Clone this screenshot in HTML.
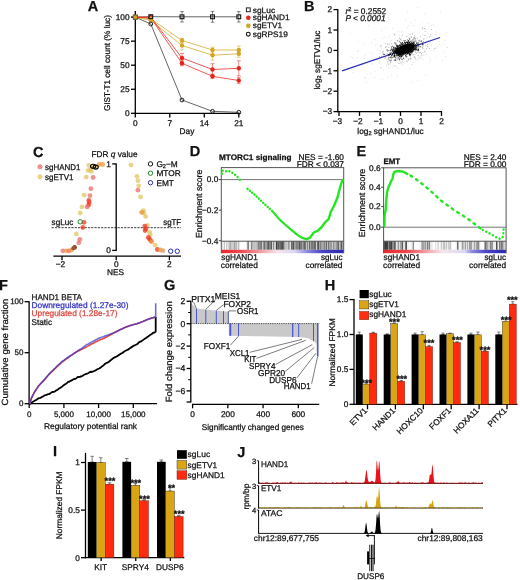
<!DOCTYPE html>
<html><head><meta charset="utf-8"><title>Figure</title>
<style>
html,body{margin:0;padding:0;background:#fff;}
body{width:520px;height:580px;overflow:hidden;}
svg{display:block;font-family:"Liberation Sans",sans-serif;fill:#111;}
text{stroke:#111;stroke-width:.25px;text-rendering:geometricPrecision;}
</style></head><body>
<svg width="520" height="580" viewBox="0 0 520 580">
<rect width="520" height="580" fill="#fff"/>
<g id="panelA">
<text x="87.80" y="10.80" font-size="14.5" font-weight="bold">A</text>
<line x1="135.30" y1="11.00" x2="135.30" y2="113.85" stroke="#000" stroke-width="1.3"/>
<line x1="134.75" y1="113.30" x2="240.50" y2="113.30" stroke="#000" stroke-width="1.3"/>
<line x1="131.00" y1="17.10" x2="135.30" y2="17.10" stroke="#000" stroke-width="1.3"/>
<text x="129.50" y="19.98" font-size="8.3" text-anchor="end">100</text>
<line x1="131.00" y1="41.15" x2="135.30" y2="41.15" stroke="#000" stroke-width="1.3"/>
<text x="129.50" y="44.03" font-size="8.3" text-anchor="end">75</text>
<line x1="131.00" y1="65.20" x2="135.30" y2="65.20" stroke="#000" stroke-width="1.3"/>
<text x="129.50" y="68.08" font-size="8.3" text-anchor="end">50</text>
<line x1="131.00" y1="89.25" x2="135.30" y2="89.25" stroke="#000" stroke-width="1.3"/>
<text x="129.50" y="92.13" font-size="8.3" text-anchor="end">25</text>
<line x1="131.00" y1="113.30" x2="135.30" y2="113.30" stroke="#000" stroke-width="1.3"/>
<text x="129.50" y="116.18" font-size="8.3" text-anchor="end">0</text>
<line x1="135.30" y1="113.30" x2="135.30" y2="117.60" stroke="#000" stroke-width="1.3"/>
<text x="135.30" y="126.08" font-size="8.3" text-anchor="middle">0</text>
<line x1="169.80" y1="113.30" x2="169.80" y2="117.60" stroke="#000" stroke-width="1.3"/>
<text x="169.80" y="126.08" font-size="8.3" text-anchor="middle">7</text>
<line x1="204.30" y1="113.30" x2="204.30" y2="117.60" stroke="#000" stroke-width="1.3"/>
<text x="204.30" y="126.08" font-size="8.3" text-anchor="middle">14</text>
<line x1="238.80" y1="113.30" x2="238.80" y2="117.60" stroke="#000" stroke-width="1.3"/>
<text x="238.80" y="126.08" font-size="8.3" text-anchor="middle">21</text>
<text x="187.00" y="134.08" font-size="8.3" text-anchor="middle">Day</text>
<text x="110.38" y="63.10" font-size="8.3" text-anchor="middle" transform="rotate(-90 110.38 63.10)" textLength="96.0" lengthAdjust="spacingAndGlyphs">GIST-T1 cell count (% luc)</text>
<polyline points="135.30,17.10 150.80,16.70 182.00,16.80 212.50,16.80 238.80,16.80" fill="none" stroke="#222" stroke-width="0.7"/>
<line x1="150.80" y1="15.20" x2="150.80" y2="18.20" stroke="#333" stroke-width="0.6"/>
<line x1="149.00" y1="15.20" x2="152.60" y2="15.20" stroke="#333" stroke-width="0.6"/>
<line x1="149.00" y1="18.20" x2="152.60" y2="18.20" stroke="#333" stroke-width="0.6"/>
<line x1="182.00" y1="11.60" x2="182.00" y2="22.00" stroke="#333" stroke-width="0.6"/>
<line x1="180.20" y1="11.60" x2="183.80" y2="11.60" stroke="#333" stroke-width="0.6"/>
<line x1="180.20" y1="22.00" x2="183.80" y2="22.00" stroke="#333" stroke-width="0.6"/>
<line x1="212.50" y1="11.40" x2="212.50" y2="22.20" stroke="#333" stroke-width="0.6"/>
<line x1="210.70" y1="11.40" x2="214.30" y2="11.40" stroke="#333" stroke-width="0.6"/>
<line x1="210.70" y1="22.20" x2="214.30" y2="22.20" stroke="#333" stroke-width="0.6"/>
<line x1="238.80" y1="11.60" x2="238.80" y2="22.00" stroke="#333" stroke-width="0.6"/>
<line x1="237.00" y1="11.60" x2="240.60" y2="11.60" stroke="#333" stroke-width="0.6"/>
<line x1="237.00" y1="22.00" x2="240.60" y2="22.00" stroke="#333" stroke-width="0.6"/>
<polyline points="135.30,17.10 150.80,24.00 182.00,100.00 212.50,111.30 238.80,112.30" fill="none" stroke="#222" stroke-width="0.7"/>
<polyline points="135.30,17.10 150.80,18.80 182.00,40.50 212.50,50.00 238.80,50.00" fill="none" stroke="#d3a521" stroke-width="0.75"/>
<line x1="182.00" y1="38.30" x2="182.00" y2="42.70" stroke="#d3a521" stroke-width="0.5"/>
<line x1="180.00" y1="38.30" x2="184.00" y2="38.30" stroke="#d3a521" stroke-width="0.5"/>
<line x1="180.00" y1="42.70" x2="184.00" y2="42.70" stroke="#d3a521" stroke-width="0.5"/>
<line x1="212.50" y1="47.20" x2="212.50" y2="52.80" stroke="#d3a521" stroke-width="0.5"/>
<line x1="210.50" y1="47.20" x2="214.50" y2="47.20" stroke="#d3a521" stroke-width="0.5"/>
<line x1="210.50" y1="52.80" x2="214.50" y2="52.80" stroke="#d3a521" stroke-width="0.5"/>
<line x1="238.80" y1="46.00" x2="238.80" y2="54.00" stroke="#d3a521" stroke-width="0.5"/>
<line x1="236.80" y1="46.00" x2="240.80" y2="46.00" stroke="#d3a521" stroke-width="0.5"/>
<line x1="236.80" y1="54.00" x2="240.80" y2="54.00" stroke="#d3a521" stroke-width="0.5"/>
<polyline points="135.30,17.10 150.80,20.40 182.00,45.50 212.50,55.20 238.80,53.80" fill="none" stroke="#d3a521" stroke-width="0.75"/>
<line x1="182.00" y1="41.00" x2="182.00" y2="50.00" stroke="#d3a521" stroke-width="0.5"/>
<line x1="180.00" y1="41.00" x2="184.00" y2="41.00" stroke="#d3a521" stroke-width="0.5"/>
<line x1="180.00" y1="50.00" x2="184.00" y2="50.00" stroke="#d3a521" stroke-width="0.5"/>
<line x1="212.50" y1="50.40" x2="212.50" y2="60.00" stroke="#d3a521" stroke-width="0.5"/>
<line x1="210.50" y1="50.40" x2="214.50" y2="50.40" stroke="#d3a521" stroke-width="0.5"/>
<line x1="210.50" y1="60.00" x2="214.50" y2="60.00" stroke="#d3a521" stroke-width="0.5"/>
<line x1="238.80" y1="50.30" x2="238.80" y2="57.30" stroke="#d3a521" stroke-width="0.5"/>
<line x1="236.80" y1="50.30" x2="240.80" y2="50.30" stroke="#d3a521" stroke-width="0.5"/>
<line x1="236.80" y1="57.30" x2="240.80" y2="57.30" stroke="#d3a521" stroke-width="0.5"/>
<polyline points="135.30,17.10 150.80,17.20 182.00,58.00 212.50,69.50 238.80,68.30" fill="none" stroke="#e8231c" stroke-width="0.75"/>
<line x1="182.00" y1="53.50" x2="182.00" y2="62.50" stroke="#e8231c" stroke-width="0.5"/>
<line x1="180.00" y1="53.50" x2="184.00" y2="53.50" stroke="#e8231c" stroke-width="0.5"/>
<line x1="180.00" y1="62.50" x2="184.00" y2="62.50" stroke="#e8231c" stroke-width="0.5"/>
<line x1="212.50" y1="63.70" x2="212.50" y2="75.30" stroke="#e8231c" stroke-width="0.5"/>
<line x1="210.50" y1="63.70" x2="214.50" y2="63.70" stroke="#e8231c" stroke-width="0.5"/>
<line x1="210.50" y1="75.30" x2="214.50" y2="75.30" stroke="#e8231c" stroke-width="0.5"/>
<line x1="238.80" y1="60.80" x2="238.80" y2="75.80" stroke="#e8231c" stroke-width="0.5"/>
<line x1="236.80" y1="60.80" x2="240.80" y2="60.80" stroke="#e8231c" stroke-width="0.5"/>
<line x1="236.80" y1="75.80" x2="240.80" y2="75.80" stroke="#e8231c" stroke-width="0.5"/>
<polyline points="135.30,17.10 150.80,18.00 182.00,63.30 212.50,76.30 238.80,80.50" fill="none" stroke="#e8231c" stroke-width="0.75"/>
<line x1="182.00" y1="60.80" x2="182.00" y2="65.80" stroke="#e8231c" stroke-width="0.5"/>
<line x1="180.00" y1="60.80" x2="184.00" y2="60.80" stroke="#e8231c" stroke-width="0.5"/>
<line x1="180.00" y1="65.80" x2="184.00" y2="65.80" stroke="#e8231c" stroke-width="0.5"/>
<line x1="212.50" y1="74.10" x2="212.50" y2="78.50" stroke="#e8231c" stroke-width="0.5"/>
<line x1="210.50" y1="74.10" x2="214.50" y2="74.10" stroke="#e8231c" stroke-width="0.5"/>
<line x1="210.50" y1="78.50" x2="214.50" y2="78.50" stroke="#e8231c" stroke-width="0.5"/>
<line x1="238.80" y1="77.30" x2="238.80" y2="83.70" stroke="#e8231c" stroke-width="0.5"/>
<line x1="236.80" y1="77.30" x2="240.80" y2="77.30" stroke="#e8231c" stroke-width="0.5"/>
<line x1="236.80" y1="83.70" x2="240.80" y2="83.70" stroke="#e8231c" stroke-width="0.5"/>
<circle cx="150.80" cy="17.20" r="2.2" fill="#e8231c"/>
<circle cx="182.00" cy="58.00" r="2.2" fill="#e8231c"/>
<circle cx="212.50" cy="69.50" r="2.2" fill="#e8231c"/>
<circle cx="238.80" cy="68.30" r="2.2" fill="#e8231c"/>
<circle cx="150.80" cy="18.00" r="2.2" fill="#e8231c"/>
<circle cx="182.00" cy="63.30" r="2.2" fill="#e8231c"/>
<circle cx="212.50" cy="76.30" r="2.2" fill="#e8231c"/>
<circle cx="238.80" cy="80.50" r="2.2" fill="#e8231c"/>
<circle cx="150.80" cy="18.80" r="2.2" fill="#d3a521"/>
<circle cx="182.00" cy="40.50" r="2.2" fill="#d3a521"/>
<circle cx="212.50" cy="50.00" r="2.2" fill="#d3a521"/>
<circle cx="238.80" cy="50.00" r="2.2" fill="#d3a521"/>
<circle cx="150.80" cy="20.40" r="2.2" fill="#d3a521"/>
<circle cx="182.00" cy="45.50" r="2.2" fill="#d3a521"/>
<circle cx="212.50" cy="55.20" r="2.2" fill="#d3a521"/>
<circle cx="238.80" cy="53.80" r="2.2" fill="#d3a521"/>
<rect x="133.40" y="15.20" width="3.80" height="3.80" fill="none" stroke="#111" stroke-width="1.1"/>
<rect x="148.90" y="14.80" width="3.80" height="3.80" fill="none" stroke="#111" stroke-width="1.1"/>
<rect x="180.10" y="14.90" width="3.80" height="3.80" fill="none" stroke="#111" stroke-width="1.1"/>
<rect x="210.60" y="14.90" width="3.80" height="3.80" fill="none" stroke="#111" stroke-width="1.1"/>
<rect x="236.90" y="14.90" width="3.80" height="3.80" fill="none" stroke="#111" stroke-width="1.1"/>
<circle cx="135.30" cy="17.10" r="1.9" fill="none" stroke="#111" stroke-width="0.9"/>
<circle cx="150.80" cy="24.00" r="1.9" fill="none" stroke="#111" stroke-width="0.9"/>
<circle cx="182.00" cy="100.00" r="1.9" fill="none" stroke="#111" stroke-width="0.9"/>
<circle cx="212.50" cy="111.30" r="1.9" fill="none" stroke="#111" stroke-width="0.9"/>
<circle cx="238.80" cy="112.30" r="1.9" fill="none" stroke="#111" stroke-width="0.9"/>
<circle cx="135.30" cy="17.10" r="2.3" fill="#d3a521"/>
<rect x="133.40" y="15.20" width="3.80" height="3.80" fill="none" stroke="#7a6a30" stroke-width="0.7"/>
<rect x="246.40" y="7.90" width="3.80" height="3.80" fill="none" stroke="#222" stroke-width="1.0"/>
<circle cx="248.30" cy="17.80" r="2.3" fill="#e8231c"/>
<circle cx="248.30" cy="25.70" r="2.3" fill="#d3a521"/>
<circle cx="248.30" cy="34.20" r="1.9" fill="none" stroke="#111" stroke-width="1.1"/>
<text x="252.80" y="12.68" font-size="8.0" textLength="22.3" lengthAdjust="spacingAndGlyphs">sgLuc</text>
<text x="252.80" y="20.48" font-size="8.0" textLength="36.8" lengthAdjust="spacingAndGlyphs">sgHAND1</text>
<text x="252.80" y="28.48" font-size="8.0" textLength="29.3" lengthAdjust="spacingAndGlyphs">sgETV1</text>
<text x="252.80" y="36.88" font-size="8.0" textLength="35.0" lengthAdjust="spacingAndGlyphs">sgRPS19</text>
</g>
<g id="panelB">
<text x="304.00" y="10.70" font-size="14.5" font-weight="bold">B</text>
<line x1="337.80" y1="9.05" x2="337.80" y2="112.15" stroke="#000" stroke-width="1.3"/>
<line x1="337.80" y1="111.60" x2="442.05" y2="111.60" stroke="#000" stroke-width="1.3"/>
<line x1="333.50" y1="9.60" x2="337.80" y2="9.60" stroke="#000" stroke-width="1.3"/>
<text x="332.20" y="12.48" font-size="8.3" text-anchor="end">2</text>
<line x1="333.50" y1="30.00" x2="337.80" y2="30.00" stroke="#000" stroke-width="1.3"/>
<text x="332.20" y="32.88" font-size="8.3" text-anchor="end">1</text>
<line x1="333.50" y1="50.40" x2="337.80" y2="50.40" stroke="#000" stroke-width="1.3"/>
<text x="332.20" y="53.28" font-size="8.3" text-anchor="end">0</text>
<line x1="333.50" y1="70.80" x2="337.80" y2="70.80" stroke="#000" stroke-width="1.3"/>
<text x="332.20" y="73.68" font-size="8.3" text-anchor="end">−1</text>
<line x1="333.50" y1="91.20" x2="337.80" y2="91.20" stroke="#000" stroke-width="1.3"/>
<text x="332.20" y="94.08" font-size="8.3" text-anchor="end">−2</text>
<line x1="333.50" y1="111.60" x2="337.80" y2="111.60" stroke="#000" stroke-width="1.3"/>
<text x="332.20" y="114.48" font-size="8.3" text-anchor="end">−3</text>
<line x1="339.00" y1="111.60" x2="339.00" y2="115.90" stroke="#000" stroke-width="1.3"/>
<text x="337.50" y="124.08" font-size="8.3" text-anchor="middle">−3</text>
<line x1="359.50" y1="111.60" x2="359.50" y2="115.90" stroke="#000" stroke-width="1.3"/>
<text x="358.00" y="124.08" font-size="8.3" text-anchor="middle">−2</text>
<line x1="380.00" y1="111.60" x2="380.00" y2="115.90" stroke="#000" stroke-width="1.3"/>
<text x="378.50" y="124.08" font-size="8.3" text-anchor="middle">−1</text>
<line x1="400.50" y1="111.60" x2="400.50" y2="115.90" stroke="#000" stroke-width="1.3"/>
<text x="400.50" y="124.08" font-size="8.3" text-anchor="middle">0</text>
<line x1="421.00" y1="111.60" x2="421.00" y2="115.90" stroke="#000" stroke-width="1.3"/>
<text x="421.00" y="124.08" font-size="8.3" text-anchor="middle">1</text>
<line x1="441.50" y1="111.60" x2="441.50" y2="115.90" stroke="#000" stroke-width="1.3"/>
<text x="441.50" y="124.08" font-size="8.3" text-anchor="middle">2</text>
<text x="390.50" y="133.88" font-size="8.3" text-anchor="middle">log<tspan font-size="5.6" dy="1.6">2</tspan><tspan dy="-1.6"> sgHAND1/luc</tspan></text>
<text x="319.68" y="60.00" font-size="8.3" text-anchor="middle" transform="rotate(-90 319.68 60.00)">log<tspan font-size="5.6" dy="1.6">2</tspan><tspan dy="-1.6"> sgETV1/luc</tspan></text>
<text x="345.50" y="13.60" font-size="8.3"><tspan font-style="italic">r</tspan><tspan font-size="5.6" dy="-3">2</tspan><tspan dy="3"> = 0.2552</tspan></text>
<text x="345.50" y="21.40" font-size="8.3" font-style="italic">P &lt; 0.0001</text>
<path d="M401.1 57.5h0M398.1 47.2h0M382.7 54.2h0M431.6 45.3h0M429.1 43.8h0M414.3 48.3h0M370.7 73.2h0M418.2 51.2h0M358.7 41.6h0M382.4 50.7h0M411.3 46.2h0M413.5 37.1h0M413.3 51.5h0M397.2 75.6h0M422.4 59.3h0M387.3 45.2h0M396.4 50.7h0M420.0 47.1h0M390.3 41.1h0M398.2 68.4h0M387.4 58.8h0M407.7 27.5h0M411.4 64.8h0M357.7 61.6h0M398.6 40.1h0M415.6 44.4h0M375.2 71.2h0M423.9 55.3h0M438.7 41.9h0M401.6 32.3h0M415.8 36.7h0M388.8 37.4h0M380.4 50.6h0M424.8 13.9h0M372.7 64.0h0M439.7 44.5h0M350.6 33.8h0M409.4 37.3h0M383.6 70.3h0M430.2 42.2h0M412.1 52.5h0M443.3 43.8h0M418.7 51.7h0M374.8 77.6h0M428.5 47.9h0M357.2 57.5h0M415.6 20.2h0M404.9 63.2h0M382.1 79.6h0M416.4 42.9h0M414.8 54.5h0M412.4 62.2h0M387.8 49.5h0M428.2 41.1h0M388.9 67.9h0M435.7 31.8h0M372.8 58.8h0M399.9 46.8h0M431.8 25.2h0M427.5 23.4h0M389.6 63.3h0M433.9 50.5h0M413.0 48.1h0M410.6 55.0h0M401.8 54.0h0M417.5 44.6h0M424.3 49.9h0M393.3 48.1h0M408.4 60.6h0M398.7 56.7h0M380.3 61.3h0M414.6 48.9h0M397.7 60.7h0M408.7 40.5h0M391.6 52.5h0M399.2 50.3h0M340.9 65.4h0M422.2 26.7h0M407.3 61.4h0M430.5 60.5h0M364.6 58.7h0M399.6 59.6h0M417.4 7.5h0M422.8 22.6h0M413.5 25.4h0M413.8 62.4h0M402.1 52.8h0M423.2 44.4h0M409.4 68.7h0M427.0 37.1h0M424.1 38.5h0M410.7 56.7h0M412.4 55.2h0M363.5 43.2h0M414.2 32.4h0M374.9 39.6h0M436.5 48.0h0M433.7 25.8h0M399.6 35.2h0M428.9 62.4h0M391.4 75.5h0M426.1 39.0h0M366.3 82.4h0M399.8 42.6h0M415.4 51.0h0M433.9 24.5h0M436.8 58.2h0M436.6 35.2h0M392.3 67.7h0M407.7 49.8h0M435.6 34.4h0M351.0 63.1h0M366.3 74.3h0M409.1 39.1h0M408.0 59.5h0M412.2 64.8h0M407.8 62.4h0M445.4 56.8h0M393.3 65.4h0M357.5 51.2h0M365.0 78.2h0M376.7 59.1h0M400.1 50.4h0M392.3 56.9h0M445.2 35.2h0M421.0 57.1h0M394.6 35.4h0M396.8 66.8h0M364.8 55.3h0M430.8 50.7h0M408.3 59.0h0M403.2 33.4h0M366.5 54.1h0M422.9 34.8h0M380.8 47.1h0M369.5 60.2h0M379.6 63.2h0M352.7 72.4h0M381.6 30.7h0M419.8 39.9h0M350.4 56.6h0M409.2 41.2h0M425.5 52.0h0M421.1 47.8h0M437.6 46.4h0M405.6 20.0h0M430.6 57.9h0M395.8 45.9h0M440.7 11.9h0M425.9 75.0h0M386.7 65.2h0M446.7 32.4h0M421.2 55.7h0M383.8 55.5h0M414.8 56.9h0M403.0 47.1h0M380.1 53.1h0M425.2 43.2h0M381.6 45.8h0M407.6 12.3h0M420.8 50.0h0M444.5 40.7h0M405.4 56.1h0M365.2 77.6h0M408.8 38.0h0M442.5 60.6h0M370.0 52.5h0M412.0 49.1h0M391.3 40.5h0M371.7 42.5h0M447.4 47.5h0M386.1 59.5h0M352.5 57.6h0M405.6 56.1h0M387.6 53.6h0M416.6 50.1h0M419.9 46.6h0M400.8 61.5h0M402.1 38.7h0M390.5 54.3h0M402.8 52.0h0M405.4 51.4h0M396.0 34.9h0M418.8 58.7h0M413.6 43.4h0M410.4 33.8h0M362.0 65.3h0M386.8 65.8h0M368.5 25.9h0M388.1 77.0h0M389.9 35.6h0M389.7 61.8h0M416.6 47.3h0M441.2 45.8h0M406.8 56.7h0M446.2 47.6h0M422.9 27.6h0M404.5 59.3h0M402.6 64.7h0M422.1 55.5h0M411.0 82.1h0M431.7 36.5h0M418.1 80.2h0M400.7 62.7h0M426.8 41.3h0M379.1 61.0h0M417.7 60.1h0M422.4 43.1h0M426.3 48.9h0M409.5 48.2h0M402.1 59.6h0M378.0 50.1h0M398.3 31.3h0M385.9 28.2h0M391.7 61.7h0M417.1 43.9h0M393.1 33.8h0M425.4 29.5h0M392.4 28.5h0M426.3 54.3h0M361.5 64.0h0M411.1 22.5h0M358.7 51.0h0M384.2 37.2h0M406.4 52.0h0M422.0 52.6h0M443.7 51.2h0M372.8 53.7h0M375.9 44.6h0M402.8 49.9h0M408.7 25.8h0M376.6 59.0h0M398.7 47.0h0M399.8 40.4h0M422.0 47.8h0M399.7 41.7h0M388.7 17.3h0M382.6 57.6h0M371.5 63.9h0M401.9 31.2h0M397.6 47.4h0M417.7 52.9h0M400.0 39.1h0M401.1 49.6h0M422.5 46.8h0M382.3 38.5h0M392.9 43.2h0M379.0 56.8h0M394.0 54.5h0M414.6 39.9h0M430.0 41.7h0" stroke="#999" stroke-width="0.7" stroke-linecap="round" fill="none" opacity="0.5"/>
<path d="M412.7 33.7h0M396.9 53.3h0M415.1 57.8h0M410.3 54.0h0M414.5 50.7h0M409.9 46.5h0M408.3 42.1h0M415.7 39.8h0M410.9 58.2h0M402.2 50.2h0M417.2 44.8h0M396.3 53.6h0M412.1 50.3h0M399.2 60.5h0M422.7 42.8h0M406.8 46.1h0M418.7 40.4h0M411.1 44.3h0M398.3 55.3h0M419.0 44.0h0M398.6 55.7h0M404.6 50.9h0M423.0 48.6h0M402.8 62.0h0M406.0 52.9h0M397.5 51.5h0M388.7 64.4h0M417.3 38.2h0M385.6 47.4h0M416.5 42.5h0M403.4 48.0h0M401.4 44.6h0M402.4 42.3h0M404.3 50.9h0M409.3 46.3h0M395.1 53.5h0M402.0 58.5h0M412.7 45.7h0M398.3 47.7h0M393.9 51.2h0M408.7 50.5h0M414.3 56.9h0M397.0 52.0h0M431.7 29.5h0M399.2 52.0h0M407.0 50.5h0M402.6 51.9h0M406.5 52.6h0M382.6 52.4h0M402.8 44.4h0M394.4 56.2h0M398.6 54.7h0M413.2 47.7h0M409.9 46.7h0M389.3 54.5h0M408.6 44.9h0M404.8 53.1h0M396.2 55.6h0M423.8 39.3h0M405.9 47.9h0M421.8 44.7h0M413.1 42.5h0M404.4 49.2h0M387.8 62.9h0M411.4 37.5h0M412.4 45.7h0M410.1 49.2h0M388.0 54.0h0M419.8 40.7h0M391.2 46.8h0M392.0 55.5h0M423.6 44.6h0M411.0 58.8h0M397.8 48.1h0M411.2 49.7h0M391.6 47.6h0M408.2 49.2h0M390.1 53.3h0M399.5 53.5h0M403.2 49.3h0M402.6 55.5h0M419.0 42.1h0M412.5 42.3h0M406.6 52.4h0M420.3 41.5h0M404.1 50.4h0M388.4 55.1h0M397.9 53.6h0M389.0 44.3h0M405.5 50.3h0M400.2 55.5h0M400.6 47.4h0M407.1 40.0h0M397.2 51.7h0M413.5 45.1h0M406.8 44.9h0M410.7 55.9h0M401.2 63.0h0M397.7 51.8h0M408.2 53.3h0M387.7 44.1h0M412.5 50.6h0M415.8 59.1h0M407.2 49.6h0M415.3 47.3h0M420.5 36.9h0M394.7 34.5h0M412.8 44.3h0M418.2 55.7h0M404.1 48.0h0M397.8 47.2h0M398.9 54.7h0M405.1 49.4h0M404.3 54.2h0M409.7 46.6h0M411.5 45.9h0M394.6 60.5h0M408.0 42.9h0M416.9 46.6h0M390.4 62.9h0M409.7 52.1h0M406.5 47.7h0M389.5 59.8h0M404.4 47.7h0M408.5 48.2h0M411.3 44.8h0M400.6 39.3h0M401.2 54.0h0M418.4 42.3h0M406.0 57.1h0M402.3 53.9h0M422.8 42.8h0M416.7 41.1h0M406.7 48.0h0M407.8 54.1h0M429.3 36.8h0M399.2 53.8h0M394.0 55.6h0M410.3 45.7h0M407.7 39.8h0M410.2 39.0h0M396.1 49.3h0M401.7 54.8h0M404.8 47.0h0M413.2 54.5h0M405.3 50.9h0M418.5 45.6h0M394.9 65.9h0M425.1 31.3h0M404.9 51.3h0M416.2 48.6h0M399.9 45.3h0M407.5 53.7h0M391.1 48.6h0M401.1 40.2h0M401.0 48.2h0M408.3 44.1h0M394.4 50.8h0M402.9 46.3h0M406.0 52.7h0M420.3 52.6h0M395.4 50.3h0M381.0 67.8h0M396.7 51.9h0M408.0 40.8h0M409.6 47.3h0M385.3 57.7h0M414.4 35.8h0M413.7 47.0h0M410.5 49.4h0M418.3 43.1h0M413.4 43.9h0M411.1 42.5h0M406.4 57.8h0M409.2 46.7h0M390.9 49.9h0M408.3 52.9h0M410.1 50.0h0M406.4 55.7h0M399.4 48.1h0M414.3 46.0h0M400.6 47.6h0M402.9 53.1h0M406.4 42.1h0M409.5 48.4h0M395.1 56.7h0M401.0 48.7h0M415.4 52.3h0M397.9 53.9h0M399.0 63.5h0M401.3 56.7h0M399.0 55.5h0M424.3 28.6h0M400.7 53.2h0M402.5 46.4h0M428.0 41.2h0M388.3 59.6h0M387.9 61.3h0M398.6 52.1h0M418.4 44.8h0M386.7 46.6h0M418.6 48.1h0M397.2 56.4h0M411.1 50.3h0M379.6 56.6h0M415.6 49.1h0M410.0 34.2h0M407.3 50.9h0M430.6 34.8h0M401.1 50.7h0M413.4 43.7h0M415.7 41.0h0M406.6 45.7h0M405.1 45.3h0M389.2 60.6h0M406.9 45.4h0M408.5 53.1h0M393.8 52.5h0M411.3 49.6h0M397.4 40.6h0M418.6 45.9h0M404.3 47.8h0M406.7 46.2h0M392.3 49.7h0M397.1 48.6h0M393.1 56.7h0M391.5 57.4h0M394.2 54.8h0M419.8 44.8h0M396.8 52.3h0M403.3 40.5h0M398.3 52.3h0M399.7 51.4h0M413.8 49.9h0M415.4 48.4h0M401.5 50.2h0M401.1 48.8h0M399.7 41.8h0M401.0 50.4h0M394.0 52.9h0M409.9 46.4h0M422.7 28.8h0M399.3 41.4h0M419.7 57.9h0M377.7 59.5h0M409.7 45.8h0M406.8 36.5h0M414.4 47.6h0M403.9 46.3h0M410.7 44.4h0M406.2 45.9h0M380.2 57.8h0M408.1 52.0h0M395.1 52.5h0M411.5 47.5h0M421.4 53.7h0M391.5 43.7h0M416.5 53.1h0M416.0 49.4h0M396.7 48.3h0M412.7 41.5h0M383.3 51.6h0M434.8 48.5h0M395.9 48.4h0M405.8 44.8h0M418.6 43.7h0M395.1 59.6h0M398.7 52.5h0M403.9 47.8h0M406.9 44.7h0M380.9 46.0h0M389.6 50.6h0M404.4 49.5h0M410.8 47.6h0M394.8 49.0h0M381.4 56.7h0M410.7 49.8h0M403.0 48.9h0M414.8 45.6h0M413.6 49.1h0M409.1 54.5h0M397.8 49.7h0M394.5 48.6h0M424.4 51.4h0M405.8 51.8h0M418.7 48.4h0M415.5 38.6h0M398.4 53.8h0M420.3 44.1h0M394.7 50.9h0M396.0 47.7h0M419.8 40.4h0M408.5 59.3h0M418.0 46.2h0M398.7 53.5h0M423.2 45.8h0M418.4 44.7h0M409.8 46.2h0M411.4 53.7h0M389.0 54.5h0M406.2 45.6h0M402.6 54.1h0M427.3 44.4h0M405.5 40.6h0M425.6 42.1h0M402.3 44.1h0M402.1 44.3h0M406.2 51.1h0M405.4 50.4h0M397.8 59.2h0M394.5 43.2h0M401.3 46.3h0M393.1 51.5h0M405.7 42.5h0M405.5 56.4h0M411.7 45.8h0M405.8 48.1h0M405.3 52.8h0M399.5 38.2h0M402.9 45.1h0M410.6 43.8h0M409.9 58.9h0M391.4 48.0h0M385.3 43.4h0M384.9 58.2h0M394.5 42.9h0M389.6 57.9h0M395.6 50.5h0M410.5 54.3h0M427.4 46.5h0M406.5 49.5h0M426.5 48.9h0M402.0 52.6h0M407.8 48.3h0M396.9 44.9h0M396.2 44.0h0M418.8 47.0h0M393.9 60.5h0M411.0 36.7h0M425.9 45.8h0M424.8 35.4h0M411.1 49.1h0M407.1 49.2h0M413.5 38.1h0M388.8 47.5h0M397.5 48.5h0M409.0 49.0h0M403.8 45.9h0M401.4 55.4h0M413.0 46.7h0M403.7 57.8h0M399.3 54.6h0M416.6 43.5h0M411.6 40.7h0M415.9 46.2h0M388.6 58.5h0M397.1 58.7h0M397.0 51.1h0M407.1 46.5h0M406.5 45.6h0M411.9 46.6h0M402.2 35.4h0M417.2 44.8h0M385.5 56.6h0M411.5 52.4h0M395.5 60.7h0M406.9 61.1h0M404.2 53.0h0M398.7 45.4h0M418.0 49.2h0M422.7 47.2h0M395.6 43.6h0M396.4 48.6h0M396.8 55.1h0M407.7 46.7h0M406.2 47.8h0M408.2 51.9h0M413.8 42.2h0M390.7 61.8h0M407.7 54.0h0M386.3 54.0h0M402.5 42.3h0M400.2 54.6h0M419.0 52.5h0M392.9 46.0h0M411.8 51.6h0M404.5 42.3h0M414.4 49.9h0M409.8 44.8h0M409.2 51.7h0M395.4 42.7h0M409.0 50.2h0M406.3 53.3h0M398.1 51.1h0M402.3 53.1h0M421.4 41.8h0M429.4 48.4h0M414.1 48.9h0M423.5 41.5h0M401.6 44.6h0M412.0 53.7h0M411.1 49.1h0M402.7 50.8h0M391.0 59.7h0M398.3 45.6h0M395.1 48.2h0M415.6 50.8h0M391.5 58.8h0M413.2 43.0h0M387.3 51.5h0M398.3 53.3h0M397.3 41.1h0M404.5 41.1h0M412.4 40.0h0M395.7 47.9h0M400.9 57.4h0M414.8 48.7h0M405.4 40.7h0M398.0 48.6h0M394.9 55.4h0" stroke="#444" stroke-width="0.75" stroke-linecap="round" fill="none" opacity="0.65"/>
<line x1="342.00" y1="70.80" x2="440.00" y2="37.50" stroke="#2b2fb8" stroke-width="1.3"/>
<path d="M399.6 48.8h0M396.5 45.8h0M409.4 51.6h0M404.7 46.2h0M389.0 55.4h0M412.0 47.5h0M411.5 51.3h0M410.7 45.6h0M411.5 49.1h0M395.2 51.3h0M396.2 51.9h0M406.9 45.1h0M393.9 57.1h0M408.2 52.4h0M397.9 54.9h0M418.7 50.3h0M403.6 50.4h0M404.7 52.2h0M410.7 47.3h0M397.4 54.1h0M402.5 51.9h0M407.7 53.1h0M410.8 45.6h0M408.4 53.3h0M401.9 51.5h0M412.8 50.1h0M406.3 44.5h0M397.5 52.5h0M409.4 55.3h0M400.7 54.1h0M407.5 43.0h0M400.0 51.4h0M401.6 49.8h0M406.5 46.0h0M406.7 46.5h0M402.0 51.8h0M401.5 51.2h0M414.0 45.9h0M404.5 51.5h0M403.5 52.9h0M397.7 53.6h0M400.8 48.1h0M414.1 43.2h0M415.5 47.3h0M412.1 43.5h0M413.0 50.7h0M403.8 49.1h0M419.1 44.5h0M401.5 48.4h0M407.5 49.2h0M407.3 53.5h0M403.2 51.2h0M412.1 43.4h0M412.5 52.0h0M395.6 49.1h0M396.7 46.3h0M405.4 43.2h0M408.9 52.1h0M394.9 51.7h0M394.2 55.4h0M400.0 50.0h0M405.5 50.6h0M402.6 50.0h0M401.5 50.7h0M397.8 51.8h0M392.8 51.9h0M415.9 45.4h0M397.5 52.5h0M397.3 46.7h0M401.0 52.8h0M406.7 48.1h0M398.1 48.2h0M412.7 47.0h0M397.0 45.4h0M399.0 58.8h0M397.8 51.4h0M405.7 48.3h0M401.6 46.0h0M400.1 56.0h0M401.0 53.1h0M394.4 52.0h0M407.1 51.5h0M398.6 53.2h0M406.1 46.4h0M406.5 45.7h0M399.9 50.8h0M388.7 54.6h0M397.3 47.3h0M402.9 52.2h0M403.5 53.5h0M396.5 48.1h0M414.0 47.0h0M409.3 45.0h0M409.5 48.2h0M408.4 47.9h0M411.0 44.9h0M397.5 47.2h0M410.6 44.7h0M397.6 48.8h0M400.8 46.7h0M402.3 48.1h0M400.4 47.7h0M404.4 47.9h0M405.5 49.6h0M404.4 42.5h0M400.7 48.2h0M407.6 43.3h0M400.1 49.9h0M403.6 52.6h0M403.0 52.8h0M394.3 47.3h0M412.1 47.8h0M407.6 48.5h0M406.2 44.9h0M409.6 45.8h0M410.4 47.4h0M391.8 49.8h0M411.0 46.5h0M402.5 50.7h0M401.6 48.6h0M405.3 49.4h0M413.5 46.1h0M417.3 50.2h0M415.7 48.5h0M405.5 49.3h0M403.1 47.5h0M403.6 47.6h0M414.7 47.2h0M400.1 44.9h0M403.9 48.2h0M397.1 48.4h0M392.0 55.5h0M406.8 56.4h0M404.3 48.9h0M413.2 46.5h0M405.2 47.8h0M402.5 54.6h0M412.1 51.8h0M402.6 50.0h0M400.4 53.7h0M397.0 53.7h0M412.4 50.7h0M400.2 54.1h0M399.7 48.6h0M398.0 55.1h0M413.6 44.1h0M399.8 49.9h0M420.2 46.7h0M399.7 45.4h0M401.8 53.9h0M415.2 44.6h0M400.1 49.3h0M394.5 55.6h0M399.3 54.4h0M393.4 49.3h0M405.5 46.5h0M409.2 47.6h0M398.4 53.4h0M407.6 42.2h0M415.7 46.7h0M407.2 42.5h0M400.1 49.8h0M409.4 43.0h0M397.5 45.5h0M403.5 50.7h0M394.2 51.1h0M409.1 52.5h0M408.2 47.0h0M396.8 49.1h0M400.9 51.0h0M405.9 53.9h0M405.2 45.7h0M414.5 48.5h0M404.5 47.0h0M392.7 50.3h0M409.1 45.1h0M397.1 52.5h0M406.6 50.3h0M409.8 51.7h0M400.7 53.6h0M399.5 53.2h0M405.9 49.5h0M410.2 47.1h0M411.9 49.3h0M404.8 47.4h0M399.7 49.3h0M403.4 49.6h0M422.6 44.7h0M408.2 45.2h0M400.1 49.8h0M404.7 46.0h0M413.4 44.3h0M408.6 40.6h0M404.8 50.0h0M406.3 50.4h0M406.4 49.1h0M392.9 51.2h0M391.6 55.8h0M406.2 48.0h0M399.2 49.3h0M417.1 50.0h0M405.5 52.8h0M393.4 47.3h0M400.9 47.8h0M401.5 50.9h0M421.6 41.0h0M405.2 49.8h0M405.3 51.8h0M413.7 42.1h0M405.3 48.1h0M405.2 44.3h0M392.1 46.6h0M407.9 48.6h0M402.7 42.6h0M401.7 47.9h0M395.5 49.7h0M409.2 49.2h0M405.0 50.7h0M401.1 50.7h0M405.4 50.6h0M404.1 49.0h0M403.2 47.7h0M418.1 45.9h0M409.4 54.6h0M411.3 42.0h0M409.5 50.0h0M416.9 48.8h0M407.9 44.4h0M399.8 51.8h0M406.5 45.4h0M402.0 48.9h0M405.3 50.0h0M401.7 46.4h0M413.4 50.9h0M405.0 52.2h0M407.8 50.1h0M406.7 46.1h0M408.9 50.8h0M401.3 56.4h0M418.6 49.8h0M416.9 47.0h0M402.0 48.3h0M400.0 51.2h0M405.1 51.1h0M395.1 59.8h0M417.9 44.3h0M409.0 49.1h0M406.0 48.1h0M403.1 47.2h0M405.6 48.8h0M405.6 46.2h0M404.9 49.2h0M407.1 45.0h0M408.0 51.0h0M407.7 46.9h0M401.5 49.6h0M410.4 51.9h0M403.0 47.8h0M407.0 49.0h0M398.6 49.1h0M404.7 51.2h0M396.6 48.9h0M406.3 44.8h0M405.6 49.9h0M403.0 46.7h0M403.9 48.4h0M405.7 46.2h0M409.3 42.3h0M403.6 49.6h0M409.6 45.5h0M407.2 46.5h0M410.6 52.4h0M402.7 51.3h0M400.1 53.8h0M411.7 46.8h0M398.4 52.7h0M412.4 49.8h0M407.5 42.5h0M402.0 54.5h0M398.6 54.9h0M416.3 47.3h0M410.8 45.9h0M397.4 51.5h0M403.4 49.5h0M408.5 47.3h0M406.1 50.0h0M406.4 54.2h0M407.3 48.5h0M402.8 47.9h0M412.6 46.8h0M397.8 49.9h0M403.4 48.3h0M409.8 43.8h0M407.6 48.6h0M397.8 51.8h0M404.5 50.8h0M402.3 51.0h0M393.8 49.7h0M410.2 50.4h0M403.9 47.6h0M408.9 41.2h0M400.6 52.7h0M407.4 45.0h0M395.0 57.1h0M404.6 46.4h0M405.8 51.5h0M390.6 57.7h0M406.9 42.0h0M407.3 42.7h0M411.6 47.9h0M417.1 42.8h0M405.7 52.0h0M400.2 48.6h0M402.4 49.8h0M398.8 52.8h0M407.8 48.3h0M414.2 44.7h0M411.7 45.0h0M407.1 42.3h0M405.6 48.3h0M401.1 48.6h0M401.9 48.0h0M391.2 52.2h0M400.9 48.9h0M398.3 51.1h0M408.9 46.9h0M403.1 53.9h0M411.2 49.7h0M411.0 45.9h0M404.9 52.5h0M401.3 50.0h0M407.2 49.4h0M404.0 52.5h0M404.3 51.6h0M411.5 48.8h0M407.7 44.5h0M396.3 50.3h0M408.8 52.3h0M397.8 52.6h0M398.9 49.0h0M403.7 51.7h0M407.0 52.0h0M399.7 53.7h0M410.1 47.4h0M406.8 46.7h0M397.8 50.4h0M403.7 58.4h0M403.4 54.7h0M406.1 49.6h0M408.2 45.5h0M410.3 48.3h0M396.3 54.0h0M408.3 49.3h0M413.4 44.7h0M408.3 50.2h0M400.5 54.4h0M394.9 48.7h0M406.6 45.1h0M402.3 45.0h0M403.9 46.0h0M405.1 44.3h0M407.0 47.5h0M404.9 48.9h0M404.1 45.3h0M389.7 54.7h0M398.7 49.9h0M405.1 42.9h0M399.5 49.1h0M398.8 52.3h0M403.0 47.3h0M399.7 53.5h0M401.3 52.2h0M405.4 43.1h0M398.3 51.5h0M407.4 50.6h0M410.3 50.3h0M402.2 49.4h0M408.7 46.4h0M409.2 42.6h0M408.2 47.4h0M394.1 56.0h0M406.4 48.6h0M397.9 50.2h0M412.6 43.8h0M383.5 54.2h0M397.5 51.4h0M401.4 47.5h0M400.7 53.8h0M398.1 57.6h0M400.4 47.4h0M409.7 49.1h0M399.3 53.4h0M393.0 50.5h0M410.9 46.1h0M397.5 53.3h0M409.9 47.2h0M393.7 52.0h0M407.8 50.4h0M415.2 44.6h0M401.7 50.1h0M410.7 44.1h0M409.5 39.0h0M408.6 45.7h0M408.0 50.1h0M397.6 51.4h0M406.6 50.3h0M398.2 48.4h0M395.9 60.2h0M403.3 49.0h0M396.8 54.9h0M402.9 54.2h0M409.6 47.5h0M407.7 44.6h0M402.1 48.3h0M397.2 51.9h0M405.2 53.4h0M384.4 54.4h0M398.8 49.9h0M407.5 49.4h0M404.3 47.8h0M407.8 49.1h0M393.6 52.4h0M395.4 48.9h0M405.5 49.1h0M404.4 46.6h0M402.5 47.1h0M407.5 50.3h0M416.1 49.0h0M399.5 49.6h0M399.4 52.0h0M416.8 47.0h0M390.5 50.4h0M397.6 53.3h0M404.9 50.0h0M414.2 43.2h0M401.6 56.3h0M405.8 46.4h0M391.3 49.3h0M390.4 54.5h0M405.8 51.8h0M403.1 47.6h0M402.1 55.9h0M394.5 53.4h0M405.4 50.8h0M402.7 51.4h0M409.2 47.1h0M401.7 49.7h0M398.8 50.7h0M403.0 50.4h0M413.7 50.0h0M402.6 51.8h0M407.1 50.7h0M405.0 49.9h0M401.1 48.0h0M411.0 50.9h0M408.9 49.0h0M405.7 47.4h0M394.8 54.8h0M405.2 47.3h0M400.2 54.7h0M395.8 57.8h0M410.7 54.3h0M400.4 50.6h0M401.8 50.7h0M402.6 47.6h0M410.1 44.8h0M402.2 51.8h0M401.0 49.1h0M406.3 47.4h0M397.2 51.5h0M405.0 54.3h0M399.2 54.1h0M399.7 49.9h0M403.0 50.6h0M411.4 52.2h0M402.2 54.2h0M411.2 49.3h0M401.1 53.3h0M404.3 50.4h0M403.7 51.6h0M412.2 49.9h0M404.4 52.3h0M412.2 43.6h0M411.9 42.5h0M408.3 49.7h0M413.5 46.8h0M401.0 48.0h0M398.1 53.9h0M402.5 47.7h0M407.0 46.0h0M401.6 48.9h0M415.7 49.7h0M402.1 45.2h0M406.3 48.8h0M407.2 50.0h0M403.6 52.4h0M409.7 48.0h0M401.8 48.7h0M407.6 44.7h0M402.9 47.5h0M397.1 53.8h0M404.5 49.4h0M408.2 43.3h0M404.5 50.1h0M408.4 44.5h0M409.0 48.3h0M413.6 49.5h0M409.9 53.9h0M404.2 48.0h0M401.7 47.3h0M402.6 44.1h0M404.5 50.5h0M410.0 46.2h0M412.1 44.5h0M402.0 44.4h0M399.4 48.6h0M413.6 47.5h0M398.8 52.9h0M407.1 47.6h0M404.4 48.3h0M399.8 45.6h0M405.3 52.8h0M412.5 45.5h0M400.1 50.2h0M410.0 48.3h0M401.6 51.4h0M403.9 51.0h0M400.9 46.1h0M405.7 51.1h0M398.2 51.2h0M409.2 46.4h0M402.8 55.9h0M410.3 50.2h0M400.8 55.5h0M394.7 51.2h0M410.1 51.2h0M398.7 49.3h0M403.9 43.7h0M408.8 49.4h0M402.6 51.5h0M409.3 48.4h0M409.0 52.1h0M402.0 50.6h0M402.6 53.0h0M402.7 51.3h0M405.4 49.1h0M414.2 45.5h0M413.4 48.5h0M411.9 46.1h0M410.6 49.3h0M401.4 51.2h0M403.8 49.4h0M411.3 44.7h0M393.5 48.0h0M401.4 48.4h0M405.2 50.7h0M414.8 46.4h0M406.5 46.3h0M409.2 51.6h0M410.3 41.3h0M411.1 51.6h0M407.8 43.6h0M403.4 51.4h0M406.2 46.2h0M400.5 53.5h0M398.5 55.7h0M405.0 49.9h0M396.5 50.3h0M407.1 43.9h0M414.9 41.3h0M397.8 51.8h0M408.0 50.2h0M402.3 49.4h0M402.7 48.2h0M391.0 56.9h0M406.2 49.1h0M401.3 51.1h0M404.5 49.0h0M409.2 42.5h0M405.0 45.9h0M404.2 53.8h0M398.4 51.1h0M402.2 52.9h0M397.5 46.8h0M407.1 47.2h0M403.8 52.7h0M399.3 50.0h0M405.8 50.0h0M402.7 53.0h0M416.8 43.6h0M413.1 39.9h0M412.2 45.5h0M405.0 48.0h0M399.8 47.1h0M403.6 53.4h0M410.7 46.0h0M401.0 48.4h0M399.6 56.3h0M408.4 48.2h0M400.9 47.5h0M412.7 48.6h0M400.2 53.7h0M399.0 53.1h0M398.8 50.1h0M407.8 49.3h0M409.5 45.0h0M414.7 49.5h0M405.0 50.4h0M400.1 50.4h0M397.3 52.1h0M407.0 52.3h0M410.7 49.4h0M402.4 49.3h0M402.9 50.5h0M394.5 55.1h0M395.3 51.0h0M404.2 47.8h0M413.8 45.6h0M414.5 49.1h0M402.2 51.3h0M411.6 45.7h0M404.6 47.6h0M404.6 48.2h0M406.0 51.7h0M412.5 46.7h0M406.5 51.0h0M402.0 47.0h0M409.9 44.5h0M408.9 44.8h0M413.9 42.8h0M410.8 51.4h0M400.6 55.0h0M398.3 46.2h0M409.3 49.6h0M401.1 43.0h0M404.0 48.5h0M402.2 49.2h0M394.0 51.3h0M416.1 49.6h0M401.9 48.1h0M407.8 51.2h0M407.5 44.7h0M405.6 49.2h0M413.8 49.4h0M408.7 51.3h0M403.8 54.0h0M402.6 51.1h0M408.9 45.0h0M399.0 46.0h0M405.5 48.7h0M403.2 51.2h0M392.7 53.4h0M404.8 48.3h0M410.7 52.2h0M401.2 47.6h0M401.3 50.7h0M407.1 45.8h0M409.2 44.5h0M409.6 48.7h0M409.2 53.9h0M403.0 49.3h0M408.1 50.5h0M397.4 52.6h0M401.0 52.3h0M412.3 46.6h0M404.2 49.9h0M388.8 57.2h0M407.9 48.5h0M401.7 48.1h0M404.7 52.7h0M405.3 52.9h0M389.8 53.2h0M406.1 48.6h0M394.7 50.8h0M410.4 43.3h0M398.0 48.3h0M402.1 52.0h0M406.0 42.7h0M412.2 44.7h0M402.9 54.8h0M403.0 46.1h0M400.3 48.6h0M398.6 50.4h0M409.8 48.3h0M399.5 59.3h0M399.2 51.5h0M405.5 51.1h0M403.2 51.1h0M416.5 45.2h0M398.8 52.2h0M399.8 49.8h0M406.0 49.7h0M403.8 52.0h0M402.3 46.2h0M409.2 46.5h0M410.8 45.0h0M408.1 48.9h0M388.1 50.7h0M399.7 55.1h0M394.9 55.4h0M411.2 48.3h0M407.9 46.5h0M404.8 49.8h0M407.6 50.2h0M402.8 47.8h0M401.8 51.4h0M394.1 49.3h0M401.8 48.6h0M400.6 42.8h0M402.5 49.2h0M407.1 42.4h0M403.3 51.1h0M408.5 51.3h0M409.5 44.3h0M407.8 47.0h0M401.5 54.8h0M400.3 48.2h0M401.5 47.8h0M410.6 48.2h0M412.8 47.5h0M402.1 53.2h0M400.5 49.3h0M403.7 49.6h0M410.7 45.2h0M406.5 48.4h0M396.5 48.9h0M403.7 50.7h0M406.9 49.8h0M404.4 47.9h0M406.0 45.7h0M396.7 51.0h0M396.1 50.7h0M399.9 49.3h0M403.6 47.2h0M400.6 45.6h0M404.6 46.6h0M404.2 40.9h0M400.3 51.5h0M390.5 53.2h0M405.2 49.3h0M396.4 52.8h0M404.5 46.3h0M408.7 47.6h0M404.3 48.0h0M407.8 48.3h0M411.4 48.1h0M400.9 49.9h0M409.4 46.4h0M407.3 49.8h0M401.4 43.4h0M405.5 49.5h0M404.6 46.9h0M411.3 46.4h0M400.4 48.6h0M405.6 45.6h0M400.9 56.5h0M413.0 49.3h0M412.9 48.0h0M396.2 55.8h0M412.1 48.0h0M394.7 56.5h0M411.8 45.1h0M406.1 51.0h0M405.2 52.3h0M405.7 50.9h0M403.7 45.1h0M402.0 59.6h0M407.4 52.1h0M412.7 51.4h0M407.2 46.5h0M402.9 44.1h0M404.4 52.0h0M392.6 54.1h0M410.5 51.0h0M398.7 49.4h0M393.0 50.3h0M409.6 53.6h0M399.4 55.2h0M406.5 47.0h0M414.6 38.0h0M404.4 49.9h0M418.4 49.6h0M417.6 44.9h0M411.5 50.8h0M407.8 49.1h0M403.2 48.5h0M399.5 56.9h0M400.1 44.6h0M406.1 48.6h0M407.3 53.7h0M403.7 48.7h0M400.3 50.7h0M402.3 50.6h0M422.7 43.9h0M401.6 56.1h0M410.3 49.6h0M409.4 49.9h0M409.8 51.6h0M411.6 50.7h0M401.7 50.2h0M401.4 53.2h0M408.9 46.3h0M410.4 55.0h0M410.6 43.7h0M404.7 51.1h0M404.8 50.3h0M411.6 47.7h0M399.0 53.3h0M404.2 49.7h0M400.1 46.7h0M397.2 50.8h0M395.9 44.2h0M410.0 43.8h0M401.0 52.1h0M392.2 57.7h0M400.9 52.5h0M402.2 51.0h0M405.2 49.0h0M392.8 49.0h0M405.7 53.0h0M402.0 51.7h0M406.0 50.2h0M408.8 43.2h0M406.0 48.2h0M402.0 47.6h0M399.1 48.1h0M400.8 58.1h0M414.3 45.7h0M407.9 45.1h0M387.0 50.0h0M406.8 52.7h0M403.4 46.6h0M402.3 47.0h0M396.5 51.4h0M401.6 47.9h0M398.7 48.5h0M407.3 52.4h0M405.5 55.6h0M395.7 53.2h0M397.9 51.1h0M405.7 50.5h0M410.5 45.4h0M397.4 51.2h0M405.6 46.7h0M411.3 51.8h0M396.9 53.1h0M408.5 42.0h0M405.6 48.2h0M397.8 55.6h0M405.4 47.5h0M407.7 50.0h0M409.5 49.2h0M405.8 45.2h0M402.3 50.4h0M390.9 60.5h0M401.4 47.2h0M394.5 53.6h0M404.2 47.6h0M401.4 47.7h0M400.2 50.5h0M401.6 52.3h0M403.9 49.8h0M408.1 51.8h0M408.2 48.6h0M402.9 47.4h0M403.3 51.7h0M405.5 47.7h0M395.6 47.8h0M407.4 51.3h0M405.4 44.8h0M403.6 50.2h0M399.7 52.0h0M402.7 47.4h0M398.3 53.9h0M405.8 46.1h0M399.7 53.6h0M407.7 47.2h0M413.4 45.2h0M399.6 54.3h0M403.9 50.5h0M403.9 46.5h0M397.7 51.1h0M411.6 43.7h0M412.5 47.0h0M398.5 52.2h0M407.0 45.7h0M392.8 54.5h0M398.7 52.6h0M393.6 52.7h0M398.6 46.9h0M403.4 50.1h0M400.3 47.2h0M404.1 44.1h0M408.1 49.4h0M415.0 48.1h0M406.9 49.2h0M403.5 45.6h0M413.4 47.6h0M401.9 46.7h0M413.5 47.6h0" stroke="#000" stroke-width="0.9" stroke-linecap="round" fill="none" opacity="1"/>
<ellipse cx="404.6" cy="49.2" rx="10.3" ry="4.2" fill="#000" transform="rotate(-19.8 404.6 49.2)"/>
</g>
<g id="panelC">
<text x="33.00" y="156.60" font-size="14.5" font-weight="bold">C</text>
<circle cx="40.00" cy="166.80" r="2.5" fill="#ee6f6f" fill-opacity="0.78"/>
<circle cx="40.00" cy="176.80" r="2.5" fill="#e3c768" fill-opacity="0.78"/>
<text x="45.00" y="169.78" font-size="8.3" textLength="35.5" lengthAdjust="spacingAndGlyphs">sgHAND1</text>
<text x="45.00" y="179.78" font-size="8.3" textLength="28.5" lengthAdjust="spacingAndGlyphs">sgETV1</text>
<text x="114.50" y="157.18" font-size="8.3" text-anchor="middle" textLength="46.0" lengthAdjust="spacingAndGlyphs">FDR <tspan font-style="italic">q</tspan> value</text>
<line x1="51.60" y1="227.70" x2="181.00" y2="227.70" stroke="#222" stroke-width="0.9" stroke-dasharray="2.2 1.1"/>
<circle cx="88.80" cy="165.40" r="2.4" fill="#e3c768" fill-opacity="0.78"/>
<circle cx="90.50" cy="169.70" r="2.4" fill="#e3c768" fill-opacity="0.78"/>
<circle cx="88.00" cy="170.60" r="2.4" fill="#e3c768" fill-opacity="0.78"/>
<circle cx="91.40" cy="171.40" r="2.4" fill="#e3c768" fill-opacity="0.78"/>
<circle cx="93.10" cy="166.20" r="2.4" fill="#e3c768" fill-opacity="0.78"/>
<circle cx="95.70" cy="167.10" r="2.4" fill="#e3c768" fill-opacity="0.78"/>
<circle cx="99.20" cy="164.50" r="2.4" fill="#f09a3c" fill-opacity="0.78"/>
<circle cx="102.70" cy="164.50" r="2.4" fill="#f09a3c" fill-opacity="0.78"/>
<circle cx="86.20" cy="177.10" r="2.4" fill="#e3c768" fill-opacity="0.78"/>
<circle cx="93.10" cy="177.50" r="2.4" fill="#ee6f6f" fill-opacity="0.78"/>
<circle cx="90.90" cy="188.70" r="2.4" fill="#ee6f6f" fill-opacity="0.78"/>
<circle cx="84.20" cy="195.10" r="2.4" fill="#e3c768" fill-opacity="0.78"/>
<circle cx="90.00" cy="195.70" r="2.4" fill="#ee6f6f" fill-opacity="0.78"/>
<circle cx="88.80" cy="200.30" r="2.4" fill="#ef3a25" fill-opacity="0.78"/>
<circle cx="89.20" cy="202.60" r="2.4" fill="#ef3a25" fill-opacity="0.78"/>
<circle cx="88.50" cy="205.20" r="2.4" fill="#ef3a25" fill-opacity="0.78"/>
<circle cx="87.10" cy="206.90" r="2.4" fill="#ee6f6f" fill-opacity="0.78"/>
<circle cx="81.90" cy="206.90" r="2.4" fill="#e3c768" fill-opacity="0.78"/>
<circle cx="80.20" cy="213.00" r="2.4" fill="#e3c768" fill-opacity="0.78"/>
<circle cx="84.00" cy="222.30" r="2.4" fill="#ef3a25" fill-opacity="0.78"/>
<circle cx="82.80" cy="227.50" r="2.4" fill="#ef3a25" fill-opacity="0.78"/>
<circle cx="76.40" cy="234.00" r="2.4" fill="#e3c768" fill-opacity="0.78"/>
<circle cx="79.80" cy="239.30" r="2.4" fill="#ee6f6f" fill-opacity="0.78"/>
<circle cx="78.80" cy="242.70" r="2.4" fill="#ee6f6f" fill-opacity="0.78"/>
<circle cx="62.90" cy="250.80" r="2.4" fill="#ee6f6f" fill-opacity="0.78"/>
<circle cx="66.30" cy="250.80" r="2.4" fill="#f09a3c" fill-opacity="0.78"/>
<circle cx="68.90" cy="250.80" r="2.4" fill="#ee6f6f" fill-opacity="0.78"/>
<circle cx="71.50" cy="250.20" r="2.4" fill="#f09a3c" fill-opacity="0.78"/>
<circle cx="74.60" cy="247.40" r="2.3" fill="#8a4a2a"/>
<circle cx="73.20" cy="248.20" r="2.0" fill="#9c5a30"/>
<circle cx="131.00" cy="165.10" r="2.4" fill="#e3c768" fill-opacity="0.78"/>
<circle cx="137.00" cy="176.30" r="2.4" fill="#e3c768" fill-opacity="0.78"/>
<circle cx="137.90" cy="180.70" r="2.4" fill="#e3c768" fill-opacity="0.78"/>
<circle cx="138.70" cy="185.80" r="2.4" fill="#e3c768" fill-opacity="0.78"/>
<circle cx="137.90" cy="190.20" r="2.4" fill="#ee6f6f" fill-opacity="0.78"/>
<circle cx="140.50" cy="196.90" r="2.4" fill="#e3c768" fill-opacity="0.78"/>
<circle cx="143.40" cy="210.60" r="2.4" fill="#e3c768" fill-opacity="0.78"/>
<circle cx="142.20" cy="212.30" r="2.4" fill="#e3c768" fill-opacity="0.78"/>
<circle cx="143.90" cy="213.20" r="2.4" fill="#e3c768" fill-opacity="0.78"/>
<circle cx="141.70" cy="212.30" r="2.4" fill="#f09a3c" fill-opacity="0.78"/>
<circle cx="145.70" cy="216.60" r="2.4" fill="#e3c768" fill-opacity="0.78"/>
<circle cx="147.40" cy="225.30" r="2.4" fill="#e3c768" fill-opacity="0.78"/>
<circle cx="144.80" cy="226.10" r="2.4" fill="#ef3a25" fill-opacity="0.78"/>
<circle cx="145.70" cy="228.70" r="2.4" fill="#ef3a25" fill-opacity="0.78"/>
<circle cx="145.10" cy="230.50" r="2.4" fill="#ef3a25" fill-opacity="0.78"/>
<circle cx="149.60" cy="232.20" r="2.4" fill="#e3c768" fill-opacity="0.78"/>
<circle cx="150.30" cy="234.80" r="2.4" fill="#e3c768" fill-opacity="0.78"/>
<circle cx="148.30" cy="237.40" r="2.4" fill="#ef3a25" fill-opacity="0.78"/>
<circle cx="149.60" cy="239.10" r="2.4" fill="#ef3a25" fill-opacity="0.78"/>
<circle cx="150.80" cy="240.80" r="2.4" fill="#ef3a25" fill-opacity="0.78"/>
<circle cx="151.70" cy="241.70" r="2.4" fill="#f09a3c" fill-opacity="0.78"/>
<circle cx="155.20" cy="245.20" r="2.4" fill="#e3c768" fill-opacity="0.78"/>
<circle cx="157.40" cy="249.50" r="2.4" fill="#ef3a25" fill-opacity="0.78"/>
<circle cx="160.40" cy="250.00" r="2.4" fill="#f09a3c" fill-opacity="0.78"/>
<circle cx="163.00" cy="250.70" r="2.4" fill="#d9a07a" fill-opacity="0.78"/>
<ellipse cx="93.1" cy="166.2" rx="2.6" ry="2.0" fill="none" stroke="#000" stroke-width="1.1"/>
<ellipse cx="95.7" cy="167.1" rx="2.6" ry="2.0" fill="none" stroke="#000" stroke-width="1.1"/>
<circle cx="80.20" cy="221.80" r="2.2" fill="none" stroke="#1f8a2a" stroke-width="1.0"/>
<circle cx="170.70" cy="251.20" r="2.2" fill="none" stroke="#2a2fb0" stroke-width="1.0"/>
<circle cx="177.30" cy="251.20" r="2.2" fill="none" stroke="#2a2fb0" stroke-width="1.0"/>
<text x="51.60" y="225.08" font-size="8.3" textLength="21.7" lengthAdjust="spacingAndGlyphs">sgLuc</text>
<text x="181.20" y="225.08" font-size="8.3" text-anchor="end" textLength="18.0" lengthAdjust="spacingAndGlyphs">sgTF</text>
<line x1="116.20" y1="163.90" x2="116.20" y2="250.40" stroke="#000" stroke-width="1.3"/>
<line x1="112.20" y1="163.90" x2="116.75" y2="163.90" stroke="#000" stroke-width="1.3"/>
<line x1="112.20" y1="250.40" x2="116.75" y2="250.40" stroke="#000" stroke-width="1.3"/>
<text x="110.80" y="167.08" font-size="8.3" text-anchor="end">1</text>
<text x="110.80" y="253.38" font-size="8.3" text-anchor="end">0</text>
<line x1="53.40" y1="256.10" x2="181.00" y2="256.10" stroke="#000" stroke-width="1.3"/>
<line x1="62.00" y1="256.10" x2="62.00" y2="260.20" stroke="#000" stroke-width="1.3"/>
<text x="60.50" y="267.38" font-size="8.3" text-anchor="middle">−2</text>
<line x1="116.20" y1="256.10" x2="116.20" y2="260.20" stroke="#000" stroke-width="1.3"/>
<text x="116.20" y="267.38" font-size="8.3" text-anchor="middle">0</text>
<line x1="169.40" y1="256.10" x2="169.40" y2="260.20" stroke="#000" stroke-width="1.3"/>
<text x="169.40" y="267.38" font-size="8.3" text-anchor="middle">2</text>
<text x="115.60" y="274.68" font-size="8.3" text-anchor="middle">NES</text>
<circle cx="150.50" cy="163.90" r="2.2" fill="none" stroke="#111" stroke-width="1.0"/>
<circle cx="150.50" cy="173.20" r="2.2" fill="none" stroke="#1f8a2a" stroke-width="1.0"/>
<circle cx="150.50" cy="182.70" r="2.2" fill="none" stroke="#2a2fb0" stroke-width="1.0"/>
<text x="156.40" y="166.88" font-size="8.3">G<tspan font-size="5.6" dy="1.6">2</tspan><tspan dy="-1.6">−M</tspan></text>
<text x="156.40" y="176.18" font-size="8.3">MTOR</text>
<text x="156.40" y="185.68" font-size="8.3">EMT</text>
</g>
<g id="panelD">
<text x="189.80" y="156.40" font-size="14.5" font-weight="bold">D</text>
<text x="219.00" y="160.18" font-size="8.0" font-weight="bold" textLength="72.5" lengthAdjust="spacingAndGlyphs">MTORC1 signaling</text>
<text x="344.00" y="160.28" font-size="8.3" text-anchor="end">NES = -1.60</text>
<text x="344.00" y="167.18" font-size="8.3" text-anchor="end">FDR &lt; 0.037</text>
<rect x="221.30" y="241.20" width="122.40" height="8.60" fill="#fff"/>
<rect x="221.30" y="241.20" width="0.80" height="8.60" fill="#f2f2f2"/>
<rect x="222.05" y="241.20" width="0.80" height="8.60" fill="#e3e3e3"/>
<rect x="222.80" y="241.20" width="0.80" height="8.60" fill="#ececec"/>
<rect x="223.55" y="241.20" width="0.80" height="8.60" fill="#e0e0e0"/>
<rect x="224.30" y="241.20" width="0.80" height="8.60" fill="#b3b3b3"/>
<rect x="226.55" y="241.20" width="0.80" height="8.60" fill="#939393"/>
<rect x="227.30" y="241.20" width="0.80" height="8.60" fill="#ebebeb"/>
<rect x="228.05" y="241.20" width="0.80" height="8.60" fill="#efefef"/>
<rect x="228.80" y="241.20" width="0.80" height="8.60" fill="#7b7b7b"/>
<rect x="229.55" y="241.20" width="0.80" height="8.60" fill="#cbcbcb"/>
<rect x="230.30" y="241.20" width="0.80" height="8.60" fill="#939393"/>
<rect x="231.05" y="241.20" width="0.80" height="8.60" fill="#cacaca"/>
<rect x="231.80" y="241.20" width="0.80" height="8.60" fill="#b1b1b1"/>
<rect x="233.30" y="241.20" width="0.80" height="8.60" fill="#b2b2b2"/>
<rect x="234.05" y="241.20" width="0.80" height="8.60" fill="#8e8e8e"/>
<rect x="234.80" y="241.20" width="0.80" height="8.60" fill="#c3c3c3"/>
<rect x="235.55" y="241.20" width="0.80" height="8.60" fill="#a1a1a1"/>
<rect x="236.30" y="241.20" width="0.80" height="8.60" fill="#acacac"/>
<rect x="237.80" y="241.20" width="0.80" height="8.60" fill="#9f9f9f"/>
<rect x="238.55" y="241.20" width="0.80" height="8.60" fill="#b8b8b8"/>
<rect x="239.30" y="241.20" width="0.80" height="8.60" fill="#e5e5e5"/>
<rect x="246.80" y="241.20" width="0.80" height="8.60" fill="#b4b4b4"/>
<rect x="247.55" y="241.20" width="0.80" height="8.60" fill="#5d5d5d"/>
<rect x="248.30" y="241.20" width="0.80" height="8.60" fill="#676767"/>
<rect x="249.05" y="241.20" width="0.80" height="8.60" fill="#f2f2f2"/>
<rect x="249.80" y="241.20" width="0.80" height="8.60" fill="#ebebeb"/>
<rect x="250.55" y="241.20" width="0.80" height="8.60" fill="#dddddd"/>
<rect x="251.30" y="241.20" width="0.80" height="8.60" fill="#575757"/>
<rect x="252.05" y="241.20" width="0.80" height="8.60" fill="#b6b6b6"/>
<rect x="252.80" y="241.20" width="0.80" height="8.60" fill="#949494"/>
<rect x="253.55" y="241.20" width="0.80" height="8.60" fill="#cecece"/>
<rect x="254.30" y="241.20" width="0.80" height="8.60" fill="#a9a9a9"/>
<rect x="255.05" y="241.20" width="0.80" height="8.60" fill="#bfbfbf"/>
<rect x="255.80" y="241.20" width="0.80" height="8.60" fill="#c5c5c5"/>
<rect x="256.55" y="241.20" width="0.80" height="8.60" fill="#9b9b9b"/>
<rect x="257.30" y="241.20" width="0.80" height="8.60" fill="#9b9b9b"/>
<rect x="258.05" y="241.20" width="0.80" height="8.60" fill="#626262"/>
<rect x="258.80" y="241.20" width="0.80" height="8.60" fill="#8a8a8a"/>
<rect x="259.55" y="241.20" width="0.80" height="8.60" fill="#5e5e5e"/>
<rect x="260.30" y="241.20" width="0.80" height="8.60" fill="#6b6b6b"/>
<rect x="261.05" y="241.20" width="0.80" height="8.60" fill="#535353"/>
<rect x="261.80" y="241.20" width="0.80" height="8.60" fill="#8c8c8c"/>
<rect x="262.55" y="241.20" width="0.80" height="8.60" fill="#e6e6e6"/>
<rect x="263.30" y="241.20" width="0.80" height="8.60" fill="#6a6a6a"/>
<rect x="264.05" y="241.20" width="0.80" height="8.60" fill="#575757"/>
<rect x="264.80" y="241.20" width="0.80" height="8.60" fill="#626262"/>
<rect x="265.55" y="241.20" width="0.80" height="8.60" fill="#9e9e9e"/>
<rect x="266.30" y="241.20" width="0.80" height="8.60" fill="#848484"/>
<rect x="267.05" y="241.20" width="0.80" height="8.60" fill="#787878"/>
<rect x="267.80" y="241.20" width="0.80" height="8.60" fill="#191919"/>
<rect x="268.55" y="241.20" width="0.80" height="8.60" fill="#414141"/>
<rect x="269.30" y="241.20" width="0.80" height="8.60" fill="#6d6d6d"/>
<rect x="270.05" y="241.20" width="0.80" height="8.60" fill="#8f8f8f"/>
<rect x="270.80" y="241.20" width="0.80" height="8.60" fill="#161616"/>
<rect x="271.55" y="241.20" width="0.80" height="8.60" fill="#414141"/>
<rect x="272.30" y="241.20" width="0.80" height="8.60" fill="#e2e2e2"/>
<rect x="273.05" y="241.20" width="0.80" height="8.60" fill="#636363"/>
<rect x="273.80" y="241.20" width="0.80" height="8.60" fill="#a8a8a8"/>
<rect x="274.55" y="241.20" width="0.80" height="8.60" fill="#d7d7d7"/>
<rect x="275.30" y="241.20" width="0.80" height="8.60" fill="#bdbdbd"/>
<rect x="276.05" y="241.20" width="0.80" height="8.60" fill="#1d1d1d"/>
<rect x="276.80" y="241.20" width="0.80" height="8.60" fill="#101010"/>
<rect x="277.55" y="241.20" width="0.80" height="8.60" fill="#797979"/>
<rect x="278.30" y="241.20" width="0.80" height="8.60" fill="#313131"/>
<rect x="279.05" y="241.20" width="0.80" height="8.60" fill="#797979"/>
<rect x="279.80" y="241.20" width="0.80" height="8.60" fill="#232323"/>
<rect x="280.55" y="241.20" width="0.80" height="8.60" fill="#555555"/>
<rect x="281.30" y="241.20" width="0.80" height="8.60" fill="#313131"/>
<rect x="282.05" y="241.20" width="0.80" height="8.60" fill="#1d1d1d"/>
<rect x="282.80" y="241.20" width="0.80" height="8.60" fill="#7e7e7e"/>
<rect x="283.55" y="241.20" width="0.80" height="8.60" fill="#191919"/>
<rect x="284.30" y="241.20" width="0.80" height="8.60" fill="#a6a6a6"/>
<rect x="285.05" y="241.20" width="0.80" height="8.60" fill="#d5d5d5"/>
<rect x="285.80" y="241.20" width="0.80" height="8.60" fill="#6b6b6b"/>
<rect x="286.55" y="241.20" width="0.80" height="8.60" fill="#dfdfdf"/>
<rect x="287.30" y="241.20" width="0.80" height="8.60" fill="#bdbdbd"/>
<rect x="288.05" y="241.20" width="0.80" height="8.60" fill="#929292"/>
<rect x="288.80" y="241.20" width="0.80" height="8.60" fill="#686868"/>
<rect x="289.55" y="241.20" width="0.80" height="8.60" fill="#c5c5c5"/>
<rect x="290.30" y="241.20" width="0.80" height="8.60" fill="#dcdcdc"/>
<rect x="291.05" y="241.20" width="0.80" height="8.60" fill="#343434"/>
<rect x="291.80" y="241.20" width="0.80" height="8.60" fill="#a5a5a5"/>
<rect x="292.55" y="241.20" width="0.80" height="8.60" fill="#212121"/>
<rect x="293.30" y="241.20" width="0.80" height="8.60" fill="#2e2e2e"/>
<rect x="294.05" y="241.20" width="0.80" height="8.60" fill="#989898"/>
<rect x="294.80" y="241.20" width="0.80" height="8.60" fill="#878787"/>
<rect x="295.55" y="241.20" width="0.80" height="8.60" fill="#7b7b7b"/>
<rect x="296.30" y="241.20" width="0.80" height="8.60" fill="#626262"/>
<rect x="297.05" y="241.20" width="0.80" height="8.60" fill="#6b6b6b"/>
<rect x="297.80" y="241.20" width="0.80" height="8.60" fill="#737373"/>
<rect x="298.55" y="241.20" width="0.80" height="8.60" fill="#666666"/>
<rect x="299.30" y="241.20" width="0.80" height="8.60" fill="#252525"/>
<rect x="300.05" y="241.20" width="0.80" height="8.60" fill="#646464"/>
<rect x="300.80" y="241.20" width="0.80" height="8.60" fill="#747474"/>
<rect x="301.55" y="241.20" width="0.80" height="8.60" fill="#393939"/>
<rect x="302.30" y="241.20" width="0.80" height="8.60" fill="#9b9b9b"/>
<rect x="303.05" y="241.20" width="0.80" height="8.60" fill="#8e8e8e"/>
<rect x="303.80" y="241.20" width="0.80" height="8.60" fill="#040404"/>
<rect x="304.55" y="241.20" width="0.80" height="8.60" fill="#616161"/>
<rect x="305.30" y="241.20" width="0.80" height="8.60" fill="#5c5c5c"/>
<rect x="306.05" y="241.20" width="0.80" height="8.60" fill="#c9c9c9"/>
<rect x="306.80" y="241.20" width="0.80" height="8.60" fill="#777777"/>
<rect x="307.55" y="241.20" width="0.80" height="8.60" fill="#555555"/>
<rect x="308.30" y="241.20" width="0.80" height="8.60" fill="#c7c7c7"/>
<rect x="309.05" y="241.20" width="0.80" height="8.60" fill="#4e4e4e"/>
<rect x="309.80" y="241.20" width="0.80" height="8.60" fill="#4b4b4b"/>
<rect x="310.55" y="241.20" width="0.80" height="8.60" fill="#bfbfbf"/>
<rect x="311.30" y="241.20" width="0.80" height="8.60" fill="#4c4c4c"/>
<rect x="312.05" y="241.20" width="0.80" height="8.60" fill="#6c6c6c"/>
<rect x="312.80" y="241.20" width="0.80" height="8.60" fill="#414141"/>
<rect x="313.55" y="241.20" width="0.80" height="8.60" fill="#848484"/>
<rect x="314.30" y="241.20" width="0.80" height="8.60" fill="#3b3b3b"/>
<rect x="315.05" y="241.20" width="0.80" height="8.60" fill="#353535"/>
<rect x="315.80" y="241.20" width="0.80" height="8.60" fill="#c7c7c7"/>
<rect x="316.55" y="241.20" width="0.80" height="8.60" fill="#bfbfbf"/>
<rect x="317.30" y="241.20" width="0.80" height="8.60" fill="#424242"/>
<rect x="318.05" y="241.20" width="0.80" height="8.60" fill="#141414"/>
<rect x="318.80" y="241.20" width="0.80" height="8.60" fill="#a5a5a5"/>
<rect x="319.55" y="241.20" width="0.80" height="8.60" fill="#7b7b7b"/>
<rect x="320.30" y="241.20" width="0.80" height="8.60" fill="#5f5f5f"/>
<rect x="321.05" y="241.20" width="0.80" height="8.60" fill="#979797"/>
<rect x="321.80" y="241.20" width="0.80" height="8.60" fill="#8e8e8e"/>
<rect x="322.55" y="241.20" width="0.80" height="8.60" fill="#989898"/>
<rect x="323.30" y="241.20" width="0.80" height="8.60" fill="#8d8d8d"/>
<rect x="324.05" y="241.20" width="0.80" height="8.60" fill="#5f5f5f"/>
<rect x="324.80" y="241.20" width="0.80" height="8.60" fill="#9b9b9b"/>
<rect x="325.55" y="241.20" width="0.80" height="8.60" fill="#8b8b8b"/>
<rect x="326.30" y="241.20" width="0.80" height="8.60" fill="#3b3b3b"/>
<rect x="327.05" y="241.20" width="0.80" height="8.60" fill="#d3d3d3"/>
<rect x="327.80" y="241.20" width="0.80" height="8.60" fill="#646464"/>
<rect x="328.55" y="241.20" width="0.80" height="8.60" fill="#424242"/>
<rect x="329.30" y="241.20" width="0.80" height="8.60" fill="#999999"/>
<rect x="330.05" y="241.20" width="0.80" height="8.60" fill="#ababab"/>
<rect x="330.80" y="241.20" width="0.80" height="8.60" fill="#343434"/>
<rect x="331.55" y="241.20" width="0.80" height="8.60" fill="#b4b4b4"/>
<rect x="332.30" y="241.20" width="0.80" height="8.60" fill="#bfbfbf"/>
<rect x="333.05" y="241.20" width="0.80" height="8.60" fill="#8c8c8c"/>
<rect x="333.80" y="241.20" width="0.80" height="8.60" fill="#575757"/>
<rect x="334.55" y="241.20" width="0.80" height="8.60" fill="#d0d0d0"/>
<rect x="335.30" y="241.20" width="0.80" height="8.60" fill="#a3a3a3"/>
<rect x="336.05" y="241.20" width="0.80" height="8.60" fill="#a1a1a1"/>
<rect x="336.80" y="241.20" width="0.80" height="8.60" fill="#3b3b3b"/>
<rect x="337.55" y="241.20" width="0.80" height="8.60" fill="#8c8c8c"/>
<rect x="338.30" y="241.20" width="0.80" height="8.60" fill="#363636"/>
<rect x="339.05" y="241.20" width="0.80" height="8.60" fill="#c2c2c2"/>
<rect x="339.80" y="241.20" width="0.80" height="8.60" fill="#a0a0a0"/>
<rect x="340.55" y="241.20" width="0.80" height="8.60" fill="#606060"/>
<rect x="341.30" y="241.20" width="0.80" height="8.60" fill="#303030"/>
<rect x="342.05" y="241.20" width="0.80" height="8.60" fill="#898989"/>
<rect x="342.80" y="241.20" width="0.80" height="8.60" fill="#b7b7b7"/>
<rect x="343.55" y="241.20" width="0.15" height="8.60" fill="#cccccc"/>
<defs><linearGradient id="grpanelD" x1="0" x2="1" y1="0" y2="0"><stop offset="0" stop-color="#e8262c"/><stop offset="0.16" stop-color="#ec4a50"/><stop offset="0.34" stop-color="#f3a6ad"/><stop offset="0.46" stop-color="#f6e4ec"/><stop offset="0.6" stop-color="#d9d6f3"/><stop offset="0.7" stop-color="#8f8adf"/><stop offset="0.82" stop-color="#4a45c6"/><stop offset="1" stop-color="#2a28ae"/></linearGradient></defs>
<rect x="221.30" y="249.80" width="122.40" height="3.40" fill="url(#grpanelD)"/>
<rect x="221.3" y="167.6" width="122.39999999999998" height="73.6" fill="none" stroke="#555" stroke-width="1"/>
<line x1="221.30" y1="241.20" x2="221.30" y2="253.20" stroke="#555" stroke-width="1"/>
<line x1="343.70" y1="241.20" x2="343.70" y2="253.20" stroke="#555" stroke-width="1"/>
<line x1="221.30" y1="179.60" x2="343.70" y2="179.60" stroke="#666" stroke-width="0.9"/>
<line x1="218.80" y1="179.60" x2="221.30" y2="179.60" stroke="#333" stroke-width="0.9"/>
<text x="218.30" y="182.48" font-size="8.3" text-anchor="end">0.0</text>
<line x1="218.80" y1="210.20" x2="221.30" y2="210.20" stroke="#333" stroke-width="0.9"/>
<text x="218.30" y="213.08" font-size="8.3" text-anchor="end">−0.2</text>
<line x1="218.80" y1="240.70" x2="221.30" y2="240.70" stroke="#333" stroke-width="0.9"/>
<text x="218.30" y="243.58" font-size="8.3" text-anchor="end">−0.4</text>
<polyline points="222.00,173.80 222.50,170.60 225.00,171.20 230.00,171.20 233.80,173.60 237.50,177.00 240.20,180.20" fill="none" stroke="#22e61e" stroke-width="2.4" stroke-linecap="round" stroke-linejoin="round" stroke-dasharray="0.1 3.3"/>
<polyline points="247.50,188.80 255.00,195.00 265.00,204.50 272.50,211.30" fill="none" stroke="#22e61e" stroke-width="2.4" stroke-linecap="round" stroke-linejoin="round" stroke-dasharray="0.1 2.9"/>
<polyline points="272.50,211.30 280.00,220.00 290.00,228.80 297.50,235.00 302.50,238.00 306.30,239.30" fill="none" stroke="#22e61e" stroke-width="2.4" stroke-linecap="round" stroke-linejoin="round" stroke-dasharray="0.1 1.7"/>
<polyline points="306.30,239.30 310.00,237.60 313.80,232.50 317.50,230.80 321.30,227.50 325.00,222.50 328.80,218.80 330.50,212.50 333.80,206.30 337.50,197.50 340.00,187.50 341.80,182.00 342.60,180.00" fill="none" stroke="#22e61e" stroke-width="2.4" stroke-linecap="round" stroke-linejoin="round"/>
<text x="221.30" y="260.48" font-size="8.3" textLength="36.5" lengthAdjust="spacingAndGlyphs">sgHAND1</text>
<text x="220.80" y="267.88" font-size="8.3" textLength="37.0" lengthAdjust="spacingAndGlyphs">correlated</text>
<text x="342.50" y="260.48" font-size="8.3" text-anchor="end" textLength="21.5" lengthAdjust="spacingAndGlyphs">sgLuc</text>
<text x="342.50" y="267.88" font-size="8.3" text-anchor="end" textLength="37.0" lengthAdjust="spacingAndGlyphs">correlated</text>
<text x="202.05" y="203.80" font-size="8.8" text-anchor="middle" transform="rotate(-90 202.05 203.80)" textLength="68.5" lengthAdjust="spacingAndGlyphs">Enrichment score</text>
</g>
<g id="panelE">
<text x="356.50" y="156.40" font-size="14.5" font-weight="bold">E</text>
<text x="383.40" y="163.68" font-size="8.0" font-weight="bold" textLength="16.8" lengthAdjust="spacingAndGlyphs">EMT</text>
<text x="506.40" y="160.28" font-size="8.3" text-anchor="end">NES = 2.40</text>
<text x="506.40" y="167.18" font-size="8.3" text-anchor="end">FDR = 0.00</text>
<rect x="383.60" y="241.20" width="122.50" height="8.60" fill="#fff"/>
<rect x="383.60" y="241.20" width="0.80" height="8.60" fill="#343434"/>
<rect x="384.35" y="241.20" width="0.80" height="8.60" fill="#222222"/>
<rect x="385.10" y="241.20" width="0.80" height="8.60" fill="#1a1a1a"/>
<rect x="385.85" y="241.20" width="0.80" height="8.60" fill="#030303"/>
<rect x="386.60" y="241.20" width="0.80" height="8.60" fill="#222222"/>
<rect x="387.35" y="241.20" width="0.80" height="8.60" fill="#060606"/>
<rect x="388.10" y="241.20" width="0.80" height="8.60" fill="#8f8f8f"/>
<rect x="388.85" y="241.20" width="0.80" height="8.60" fill="#4c4c4c"/>
<rect x="389.60" y="241.20" width="0.80" height="8.60" fill="#030303"/>
<rect x="390.35" y="241.20" width="0.80" height="8.60" fill="#303030"/>
<rect x="391.10" y="241.20" width="0.80" height="8.60" fill="#0a0a0a"/>
<rect x="391.85" y="241.20" width="0.80" height="8.60" fill="#828282"/>
<rect x="392.60" y="241.20" width="0.80" height="8.60" fill="#525252"/>
<rect x="393.35" y="241.20" width="0.80" height="8.60" fill="#808080"/>
<rect x="394.10" y="241.20" width="0.80" height="8.60" fill="#434343"/>
<rect x="394.85" y="241.20" width="0.80" height="8.60" fill="#3d3d3d"/>
<rect x="396.35" y="241.20" width="0.80" height="8.60" fill="#dddddd"/>
<rect x="397.10" y="241.20" width="0.80" height="8.60" fill="#d4d4d4"/>
<rect x="397.85" y="241.20" width="0.80" height="8.60" fill="#727272"/>
<rect x="398.60" y="241.20" width="0.80" height="8.60" fill="#898989"/>
<rect x="399.35" y="241.20" width="0.80" height="8.60" fill="#e6e6e6"/>
<rect x="400.10" y="241.20" width="0.80" height="8.60" fill="#858585"/>
<rect x="400.85" y="241.20" width="0.80" height="8.60" fill="#e9e9e9"/>
<rect x="401.60" y="241.20" width="0.80" height="8.60" fill="#202020"/>
<rect x="402.35" y="241.20" width="0.80" height="8.60" fill="#393939"/>
<rect x="403.85" y="241.20" width="0.80" height="8.60" fill="#d2d2d2"/>
<rect x="404.60" y="241.20" width="0.80" height="8.60" fill="#f4f4f4"/>
<rect x="405.35" y="241.20" width="0.80" height="8.60" fill="#343434"/>
<rect x="406.10" y="241.20" width="0.80" height="8.60" fill="#0d0d0d"/>
<rect x="406.85" y="241.20" width="0.80" height="8.60" fill="#ededed"/>
<rect x="408.35" y="241.20" width="0.80" height="8.60" fill="#ebebeb"/>
<rect x="409.85" y="241.20" width="0.80" height="8.60" fill="#f2f2f2"/>
<rect x="411.35" y="241.20" width="0.80" height="8.60" fill="#ececec"/>
<rect x="412.10" y="241.20" width="0.80" height="8.60" fill="#f2f2f2"/>
<rect x="412.85" y="241.20" width="0.80" height="8.60" fill="#010101"/>
<rect x="413.60" y="241.20" width="0.80" height="8.60" fill="#e8e8e8"/>
<rect x="418.85" y="241.20" width="0.80" height="8.60" fill="#f1f1f1"/>
<rect x="420.35" y="241.20" width="0.80" height="8.60" fill="#efefef"/>
<rect x="421.10" y="241.20" width="0.80" height="8.60" fill="#acacac"/>
<rect x="421.85" y="241.20" width="0.80" height="8.60" fill="#b0b0b0"/>
<rect x="422.60" y="241.20" width="0.80" height="8.60" fill="#636363"/>
<rect x="423.35" y="241.20" width="0.80" height="8.60" fill="#969696"/>
<rect x="424.10" y="241.20" width="0.80" height="8.60" fill="#b0b0b0"/>
<rect x="424.85" y="241.20" width="0.80" height="8.60" fill="#969696"/>
<rect x="425.60" y="241.20" width="0.80" height="8.60" fill="#747474"/>
<rect x="426.35" y="241.20" width="0.80" height="8.60" fill="#d7d7d7"/>
<rect x="427.10" y="241.20" width="0.80" height="8.60" fill="#4b4b4b"/>
<rect x="427.85" y="241.20" width="0.80" height="8.60" fill="#dcdcdc"/>
<rect x="428.60" y="241.20" width="0.80" height="8.60" fill="#6d6d6d"/>
<rect x="429.35" y="241.20" width="0.80" height="8.60" fill="#5f5f5f"/>
<rect x="430.85" y="241.20" width="0.80" height="8.60" fill="#dedede"/>
<rect x="432.35" y="241.20" width="0.80" height="8.60" fill="#eaeaea"/>
<rect x="435.35" y="241.20" width="0.80" height="8.60" fill="#d3d3d3"/>
<rect x="436.85" y="241.20" width="0.80" height="8.60" fill="#e0e0e0"/>
<rect x="437.60" y="241.20" width="0.80" height="8.60" fill="#d5d5d5"/>
<rect x="438.35" y="241.20" width="0.80" height="8.60" fill="#d4d4d4"/>
<rect x="440.60" y="241.20" width="0.80" height="8.60" fill="#d3d3d3"/>
<rect x="441.35" y="241.20" width="0.80" height="8.60" fill="#b7b7b7"/>
<rect x="442.85" y="241.20" width="0.80" height="8.60" fill="#bababa"/>
<rect x="443.60" y="241.20" width="0.80" height="8.60" fill="#b4b4b4"/>
<rect x="444.35" y="241.20" width="0.80" height="8.60" fill="#adadad"/>
<rect x="445.85" y="241.20" width="0.80" height="8.60" fill="#a4a4a4"/>
<rect x="447.35" y="241.20" width="0.80" height="8.60" fill="#e8e8e8"/>
<rect x="448.10" y="241.20" width="0.80" height="8.60" fill="#c9c9c9"/>
<rect x="448.85" y="241.20" width="0.80" height="8.60" fill="#a7a7a7"/>
<rect x="449.60" y="241.20" width="0.80" height="8.60" fill="#e8e8e8"/>
<rect x="450.35" y="241.20" width="0.80" height="8.60" fill="#a6a6a6"/>
<rect x="455.60" y="241.20" width="0.80" height="8.60" fill="#f2f2f2"/>
<rect x="456.35" y="241.20" width="0.80" height="8.60" fill="#eaeaea"/>
<rect x="457.10" y="241.20" width="0.80" height="8.60" fill="#4c4c4c"/>
<rect x="457.85" y="241.20" width="0.80" height="8.60" fill="#555555"/>
<rect x="458.60" y="241.20" width="0.80" height="8.60" fill="#e5e5e5"/>
<rect x="459.35" y="241.20" width="0.80" height="8.60" fill="#f1f1f1"/>
<rect x="460.10" y="241.20" width="0.80" height="8.60" fill="#f4f4f4"/>
<rect x="461.60" y="241.20" width="0.80" height="8.60" fill="#a4a4a4"/>
<rect x="462.35" y="241.20" width="0.80" height="8.60" fill="#808080"/>
<rect x="463.10" y="241.20" width="0.80" height="8.60" fill="#b9b9b9"/>
<rect x="463.85" y="241.20" width="0.80" height="8.60" fill="#bebebe"/>
<rect x="465.35" y="241.20" width="0.80" height="8.60" fill="#727272"/>
<rect x="466.85" y="241.20" width="0.80" height="8.60" fill="#b3b3b3"/>
<rect x="467.60" y="241.20" width="0.80" height="8.60" fill="#7e7e7e"/>
<rect x="468.35" y="241.20" width="0.80" height="8.60" fill="#ebebeb"/>
<rect x="469.10" y="241.20" width="0.80" height="8.60" fill="#8f8f8f"/>
<rect x="469.85" y="241.20" width="0.80" height="8.60" fill="#6d6d6d"/>
<rect x="470.60" y="241.20" width="0.80" height="8.60" fill="#9e9e9e"/>
<rect x="471.35" y="241.20" width="0.80" height="8.60" fill="#868686"/>
<rect x="472.10" y="241.20" width="0.80" height="8.60" fill="#eeeeee"/>
<rect x="472.85" y="241.20" width="0.80" height="8.60" fill="#bcbcbc"/>
<rect x="473.60" y="241.20" width="0.80" height="8.60" fill="#e8e8e8"/>
<rect x="474.35" y="241.20" width="0.80" height="8.60" fill="#7d7d7d"/>
<rect x="475.10" y="241.20" width="0.80" height="8.60" fill="#d1d1d1"/>
<rect x="475.85" y="241.20" width="0.80" height="8.60" fill="#b9b9b9"/>
<rect x="476.60" y="241.20" width="0.80" height="8.60" fill="#666666"/>
<rect x="477.35" y="241.20" width="0.80" height="8.60" fill="#7c7c7c"/>
<rect x="478.10" y="241.20" width="0.80" height="8.60" fill="#696969"/>
<rect x="478.85" y="241.20" width="0.80" height="8.60" fill="#b9b9b9"/>
<rect x="480.35" y="241.20" width="0.80" height="8.60" fill="#f2f2f2"/>
<rect x="484.10" y="241.20" width="0.80" height="8.60" fill="#ababab"/>
<rect x="484.85" y="241.20" width="0.80" height="8.60" fill="#4e4e4e"/>
<rect x="485.60" y="241.20" width="0.80" height="8.60" fill="#525252"/>
<rect x="486.35" y="241.20" width="0.80" height="8.60" fill="#858585"/>
<rect x="487.10" y="241.20" width="0.80" height="8.60" fill="#999999"/>
<rect x="487.85" y="241.20" width="0.80" height="8.60" fill="#b1b1b1"/>
<rect x="488.60" y="241.20" width="0.80" height="8.60" fill="#d7d7d7"/>
<rect x="489.35" y="241.20" width="0.80" height="8.60" fill="#bbbbbb"/>
<rect x="490.10" y="241.20" width="0.80" height="8.60" fill="#6d6d6d"/>
<rect x="490.85" y="241.20" width="0.80" height="8.60" fill="#606060"/>
<rect x="491.60" y="241.20" width="0.80" height="8.60" fill="#aeaeae"/>
<rect x="492.35" y="241.20" width="0.80" height="8.60" fill="#6d6d6d"/>
<rect x="493.10" y="241.20" width="0.80" height="8.60" fill="#ebebeb"/>
<rect x="493.85" y="241.20" width="0.80" height="8.60" fill="#ededed"/>
<rect x="494.60" y="241.20" width="0.80" height="8.60" fill="#eeeeee"/>
<rect x="495.35" y="241.20" width="0.80" height="8.60" fill="#ebebeb"/>
<rect x="496.10" y="241.20" width="0.80" height="8.60" fill="#2d2d2d"/>
<rect x="496.85" y="241.20" width="0.80" height="8.60" fill="#1b1b1b"/>
<rect x="497.60" y="241.20" width="0.80" height="8.60" fill="#f0f0f0"/>
<rect x="498.35" y="241.20" width="0.80" height="8.60" fill="#e6e6e6"/>
<rect x="499.10" y="241.20" width="0.80" height="8.60" fill="#626262"/>
<rect x="499.85" y="241.20" width="0.80" height="8.60" fill="#6f6f6f"/>
<rect x="500.60" y="241.20" width="0.80" height="8.60" fill="#ababab"/>
<rect x="501.35" y="241.20" width="0.80" height="8.60" fill="#484848"/>
<rect x="502.10" y="241.20" width="0.80" height="8.60" fill="#757575"/>
<rect x="502.85" y="241.20" width="0.80" height="8.60" fill="#7f7f7f"/>
<rect x="503.60" y="241.20" width="0.80" height="8.60" fill="#d6d6d6"/>
<rect x="504.35" y="241.20" width="0.80" height="8.60" fill="#c7c7c7"/>
<rect x="505.10" y="241.20" width="0.80" height="8.60" fill="#e5e5e5"/>
<rect x="505.85" y="241.20" width="0.25" height="8.60" fill="#bababa"/>
<defs><linearGradient id="grpanelE" x1="0" x2="1" y1="0" y2="0"><stop offset="0" stop-color="#e8262c"/><stop offset="0.2" stop-color="#ec4a50"/><stop offset="0.36" stop-color="#f3a6ad"/><stop offset="0.48" stop-color="#f6e4ec"/><stop offset="0.66" stop-color="#dcd9f4"/><stop offset="0.72" stop-color="#8f8adf"/><stop offset="0.84" stop-color="#4a45c6"/><stop offset="1" stop-color="#2a28ae"/></linearGradient></defs>
<rect x="383.60" y="249.80" width="122.50" height="3.40" fill="url(#grpanelE)"/>
<rect x="383.6" y="167.8" width="122.5" height="73.39999999999998" fill="none" stroke="#555" stroke-width="1"/>
<line x1="383.60" y1="241.20" x2="383.60" y2="253.20" stroke="#555" stroke-width="1"/>
<line x1="506.10" y1="241.20" x2="506.10" y2="253.20" stroke="#555" stroke-width="1"/>
<line x1="383.60" y1="227.20" x2="506.10" y2="227.20" stroke="#666" stroke-width="0.9"/>
<line x1="381.10" y1="167.80" x2="383.60" y2="167.80" stroke="#333" stroke-width="0.9"/>
<text x="380.60" y="170.68" font-size="8.3" text-anchor="end">0.6</text>
<line x1="381.10" y1="187.20" x2="383.60" y2="187.20" stroke="#333" stroke-width="0.9"/>
<text x="380.60" y="190.08" font-size="8.3" text-anchor="end">0.4</text>
<line x1="381.10" y1="206.60" x2="383.60" y2="206.60" stroke="#333" stroke-width="0.9"/>
<text x="380.60" y="209.48" font-size="8.3" text-anchor="end">0.2</text>
<line x1="381.10" y1="227.20" x2="383.60" y2="227.20" stroke="#333" stroke-width="0.9"/>
<text x="380.60" y="230.08" font-size="8.3" text-anchor="end">0.0</text>
<polyline points="384.40,226.00 384.60,216.00 385.80,208.50 386.40,199.00 387.10,192.30 388.30,187.50 389.80,184.20 391.20,181.00 392.50,178.80 393.20,175.00 393.80,172.90 395.00,171.60 396.50,171.30 399.00,171.10 401.90,171.40 404.50,172.30 407.30,174.00" fill="none" stroke="#22e61e" stroke-width="2.4" stroke-linecap="round" stroke-linejoin="round"/>
<polyline points="410.50,175.60 415.40,178.80 423.50,184.80 431.50,191.80 442.30,201.70 455.80,211.20 466.50,217.90 477.30,226.00 482.70,230.00" fill="none" stroke="#22e61e" stroke-width="2.4" stroke-linecap="round" stroke-linejoin="round" stroke-dasharray="1.8 4.8"/>
<polyline points="482.70,230.00 490.80,234.00 497.50,238.10 500.20,238.90 502.60,237.20 503.40,233.00 503.80,227.30" fill="none" stroke="#22e61e" stroke-width="2.4" stroke-linecap="round" stroke-linejoin="round" stroke-dasharray="0.1 3.7"/>
<text x="383.60" y="260.48" font-size="8.3" textLength="36.5" lengthAdjust="spacingAndGlyphs">sgHAND1</text>
<text x="383.10" y="267.88" font-size="8.3" textLength="37.0" lengthAdjust="spacingAndGlyphs">correlated</text>
<text x="506.10" y="260.48" font-size="8.3" text-anchor="end" textLength="21.5" lengthAdjust="spacingAndGlyphs">sgLuc</text>
<text x="506.10" y="267.88" font-size="8.3" text-anchor="end" textLength="37.0" lengthAdjust="spacingAndGlyphs">correlated</text>
<text x="365.35" y="203.00" font-size="8.8" text-anchor="middle" transform="rotate(-90 365.35 203.00)" textLength="68.5" lengthAdjust="spacingAndGlyphs">Enrichment score</text>
</g>
<g id="panelF">
<text x="-1.00" y="289.70" font-size="14.5" font-weight="bold">F</text>
<line x1="29.10" y1="301.15" x2="29.10" y2="404.25" stroke="#000" stroke-width="1.3"/>
<line x1="28.55" y1="403.70" x2="157.00" y2="403.70" stroke="#000" stroke-width="1.3"/>
<line x1="24.60" y1="301.70" x2="29.10" y2="301.70" stroke="#000" stroke-width="1.3"/>
<text x="23.50" y="304.48" font-size="8.0" text-anchor="end">100</text>
<line x1="24.60" y1="352.70" x2="29.10" y2="352.70" stroke="#000" stroke-width="1.3"/>
<text x="23.50" y="355.48" font-size="8.0" text-anchor="end">50</text>
<line x1="24.60" y1="403.70" x2="29.10" y2="403.70" stroke="#000" stroke-width="1.3"/>
<text x="23.50" y="406.48" font-size="8.0" text-anchor="end">0</text>
<line x1="29.20" y1="403.70" x2="29.20" y2="408.00" stroke="#000" stroke-width="1.3"/>
<text x="29.20" y="417.38" font-size="8.0" text-anchor="middle">0</text>
<line x1="63.90" y1="403.70" x2="63.90" y2="408.00" stroke="#000" stroke-width="1.3"/>
<text x="63.90" y="417.38" font-size="8.0" text-anchor="middle">5,000</text>
<line x1="98.60" y1="403.70" x2="98.60" y2="408.00" stroke="#000" stroke-width="1.3"/>
<text x="98.60" y="417.38" font-size="8.0" text-anchor="middle">10,000</text>
<line x1="133.30" y1="403.70" x2="133.30" y2="408.00" stroke="#000" stroke-width="1.3"/>
<text x="133.30" y="417.38" font-size="8.0" text-anchor="middle">15,000</text>
<text x="90.50" y="429.48" font-size="8.3" text-anchor="middle" textLength="93.0" lengthAdjust="spacingAndGlyphs">Regulatory potential rank</text>
<text x="8.12" y="352.20" font-size="9.0" text-anchor="middle" transform="rotate(-90 8.12 352.20)" textLength="106.8" lengthAdjust="spacingAndGlyphs">Cumulative gene fraction</text>
<text x="31.50" y="300.48" font-size="8.3" textLength="50.5" lengthAdjust="spacingAndGlyphs">HAND1 BETA</text>
<text x="31.50" y="308.18" font-size="8.3" fill="#3432c4" style="stroke:#3432c4" textLength="97.0" lengthAdjust="spacingAndGlyphs">Downregulated (1.27e-30)</text>
<text x="31.50" y="316.38" font-size="8.3" fill="#e0453f" style="stroke:#e0453f" textLength="86.0" lengthAdjust="spacingAndGlyphs">Upregulated (1.28e-17)</text>
<text x="31.50" y="324.58" font-size="8.3" textLength="20.5" lengthAdjust="spacingAndGlyphs">Static</text>
<polyline points="29.60,404.00 30.43,403.69 31.27,403.08 32.10,402.18 32.93,401.80 33.77,401.21 34.60,400.81 36.05,400.15 37.50,398.92 38.95,398.12 40.40,397.94 41.85,396.90 43.30,396.38 44.42,395.38 45.53,395.23 46.65,394.96 47.77,394.14 48.88,394.18 50.00,393.68 51.18,392.54 52.37,392.00 53.55,391.83 54.73,391.57 55.92,390.65 57.10,390.00 58.08,389.45 59.07,388.47 60.05,387.91 61.03,387.36 62.02,386.70 63.00,385.81 64.03,385.06 65.07,384.30 66.10,383.72 67.13,382.85 68.17,381.92 69.20,381.74 70.65,380.82 72.10,380.17 73.55,379.13 75.00,378.98 76.45,378.17 77.90,376.93 78.45,376.93 79.00,377.06 79.55,376.90 80.10,376.91 80.65,376.40 81.20,376.53 82.67,375.70 84.13,374.73 85.60,374.21 87.07,373.70 88.53,372.96 90.00,372.00 90.40,372.03 90.80,371.61 91.20,371.72 91.60,372.07 92.00,371.77 92.40,371.57 93.52,371.28 94.63,370.84 95.75,370.27 96.87,369.51 97.98,369.01 99.10,368.51 100.25,367.86 101.40,366.85 102.55,365.93 103.70,365.16 104.85,364.00 106.00,363.18 107.47,362.61 108.93,361.77 110.40,360.47 111.87,359.29 113.33,358.10 114.80,357.30 116.68,356.50 118.57,355.22 120.45,353.93 122.33,353.02 124.22,351.45 126.10,350.51 127.97,349.70 129.83,348.32 131.70,347.12 133.57,345.87 135.43,344.95 137.30,344.12 139.17,342.15 141.03,341.40 142.90,340.12 144.77,338.87 146.63,337.47 148.50,336.22 149.70,335.26 150.90,334.54 152.10,333.70 153.30,332.69 154.50,332.51 155.70,331.50 155.70,316.90" fill="none" stroke="#000" stroke-width="1.8" stroke-linejoin="round"/>
<polyline points="29.60,404.00 29.92,403.13 30.23,401.87 30.55,400.88 30.87,400.10 31.18,399.07 31.50,398.05 32.02,396.93 32.53,396.00 33.05,394.98 33.57,393.96 34.08,392.81 34.60,391.88 35.25,390.88 35.90,390.00 36.55,389.10 37.20,388.10 37.85,387.00 38.50,385.98 39.30,385.13 40.10,384.26 40.90,383.46 41.70,382.79 42.50,381.95 43.30,381.16 44.25,380.20 45.20,378.97 46.15,377.87 47.10,376.65 48.05,375.47 49.00,374.45 50.07,373.34 51.13,372.40 52.20,371.50 53.27,370.35 54.33,369.15 55.40,368.32 56.50,367.26 57.60,366.20 58.70,365.22 59.80,364.15 60.90,363.12 62.00,361.96 63.20,361.29 64.40,360.44 65.60,359.35 66.80,358.68 68.00,357.81 69.20,356.89 69.33,356.78 69.47,356.63 69.60,356.63 69.73,356.37 69.87,356.33 70.00,356.06 70.83,355.65 71.67,355.09 72.50,354.39 73.33,353.85 74.17,353.39 75.00,352.77 76.03,352.18 77.07,351.58 78.10,351.10 79.13,350.69 80.17,350.02 81.20,349.72 82.17,349.03 83.13,348.72 84.10,348.04 85.07,347.74 86.03,347.16 87.00,346.60 87.90,346.11 88.80,345.65 89.70,345.13 90.60,344.54 91.50,344.01 92.40,343.60 93.33,343.23 94.27,342.64 95.20,341.97 96.13,341.70 97.07,341.17 98.00,340.72 98.93,340.17 99.87,340.01 100.80,339.47 101.73,339.31 102.67,338.87 103.60,338.52 104.50,338.21 105.40,337.48 106.30,337.11 107.20,336.71 108.10,336.02 109.00,335.51 109.97,335.18 110.93,334.51 111.90,334.07 112.87,333.33 113.83,332.89 114.80,332.30 115.67,332.02 116.53,331.41 117.40,331.24 118.27,330.52 119.13,330.30 120.00,329.66 121.02,329.26 122.03,328.96 123.05,328.30 124.07,327.84 125.08,327.52 126.10,326.97 127.08,326.53 128.07,326.48 129.05,325.90 130.03,325.53 131.02,325.29 132.00,325.03 132.88,324.84 133.77,324.42 134.65,324.25 135.53,323.93 136.42,323.82 137.30,323.68 138.25,323.31 139.20,322.99 140.15,322.58 141.10,322.24 142.05,321.83 143.00,321.39 143.92,320.93 144.83,320.68 145.75,320.19 146.67,319.75 147.58,319.47 148.50,319.21 149.08,318.80 149.67,318.76 150.25,318.52 150.83,318.37 151.42,318.08 152.00,318.14 152.62,317.74 153.23,317.67 153.85,317.43 154.47,317.12 155.08,317.10 155.70,316.90" fill="none" stroke="#e8453f" stroke-width="1.6" stroke-linejoin="round"/>
<polyline points="29.60,404.00 29.92,403.01 30.23,401.96 30.55,401.03 30.87,400.04 31.18,398.87 31.50,397.85 32.02,397.08 32.53,395.89 33.05,394.87 33.57,394.08 34.08,392.91 34.60,392.00 35.25,390.91 35.90,389.98 36.55,388.85 37.20,388.01 37.85,387.09 38.50,386.01 39.30,385.19 40.10,384.28 40.90,383.22 41.70,382.54 42.50,381.61 43.30,380.64 44.25,379.44 45.20,378.58 46.15,377.34 47.10,376.30 48.05,375.23 49.00,374.06 50.07,373.08 51.13,371.87 52.20,370.94 53.27,369.78 54.33,368.88 55.40,367.81 56.50,366.55 57.60,365.52 58.70,364.52 59.80,363.71 60.90,362.51 62.00,361.54 63.20,360.59 64.40,359.80 65.60,358.92 66.80,358.06 68.00,357.28 69.20,356.43 69.33,356.47 69.47,356.35 69.60,356.38 69.73,356.31 69.87,356.30 70.00,356.15 70.83,355.43 71.67,355.07 72.50,354.54 73.33,353.95 74.17,353.29 75.00,352.76 76.03,351.93 77.07,351.43 78.10,350.67 79.13,349.90 80.17,349.15 81.20,348.71 82.17,348.08 83.13,347.14 84.10,346.69 85.07,345.91 86.03,345.16 87.00,344.54 87.90,344.18 88.80,343.71 89.70,342.96 90.60,342.63 91.50,341.96 92.40,341.67 93.33,341.05 94.27,340.71 95.20,340.24 96.13,339.60 97.07,339.25 98.00,338.54 98.93,338.14 99.87,337.96 100.80,337.46 101.73,337.18 102.67,336.91 103.60,336.63 104.50,336.16 105.40,335.80 106.30,335.71 107.20,335.21 108.10,335.07 109.00,334.72 109.97,334.20 110.93,333.85 111.90,333.51 112.87,333.18 113.83,332.80 114.80,332.42 115.67,332.00 116.53,331.67 117.40,331.10 118.27,330.65 119.13,330.30 120.00,329.72 121.02,329.27 122.03,329.01 123.05,328.41 124.07,327.95 125.08,327.32 126.10,326.97 127.08,326.69 128.07,326.19 129.05,326.03 130.03,325.71 131.02,325.20 132.00,325.04 132.88,324.76 133.77,324.59 134.65,324.26 135.53,324.13 136.42,323.90 137.30,323.46 138.25,323.10 139.20,322.92 140.15,322.64 141.10,322.06 142.05,321.75 143.00,321.43 143.92,320.96 144.83,320.59 145.75,320.19 146.67,319.83 147.58,319.51 148.50,319.04 149.08,318.88 149.67,318.82 150.25,318.41 150.83,318.39 151.42,318.25 152.00,317.94 152.62,317.73 153.23,317.72 153.85,317.37 154.47,317.17 155.08,317.06 155.70,316.90 155.70,303.30" fill="none" stroke="#3a35c8" stroke-width="1.6" stroke-linejoin="round" opacity="0.72"/>
</g>
<g id="panelG">
<text x="164.10" y="289.80" font-size="14.5" font-weight="bold">G</text>
<polygon points="191.3,323.6 191.3,303.6 193.5,305.6 196.5,308.6 205,309.6 216,310.6 228.8,311.8 228.8,323.6" fill="#c9c9c9"/>
<polygon points="228.8,323.6 228.8,335.8 260,336.3 300,337.1 308,338.2 313.5,341 316.5,344 316.9,356.3 318.4,356.3 318.4,323.6" fill="#c9c9c9"/>
<line x1="196.50" y1="323.60" x2="196.50" y2="308.60" stroke="#4a55d8" stroke-width="1.0"/>
<line x1="205.80" y1="323.60" x2="205.80" y2="309.60" stroke="#4a55d8" stroke-width="1.0"/>
<line x1="216.30" y1="323.60" x2="216.30" y2="310.60" stroke="#4a55d8" stroke-width="1.0"/>
<line x1="223.50" y1="323.60" x2="223.50" y2="311.20" stroke="#4a55d8" stroke-width="1.0"/>
<line x1="228.30" y1="323.60" x2="228.30" y2="311.70" stroke="#4a55d8" stroke-width="1.0"/>
<line x1="230.30" y1="323.60" x2="230.30" y2="335.80" stroke="#4a55d8" stroke-width="1.8"/>
<line x1="238.50" y1="323.60" x2="238.50" y2="335.90" stroke="#4a55d8" stroke-width="1.0"/>
<line x1="292.70" y1="323.60" x2="292.70" y2="336.90" stroke="#4a55d8" stroke-width="1.3"/>
<line x1="298.70" y1="323.60" x2="298.70" y2="337.10" stroke="#4a55d8" stroke-width="1.0"/>
<line x1="313.50" y1="323.60" x2="313.50" y2="341.20" stroke="#4a55d8" stroke-width="1.0"/>
<line x1="317.70" y1="323.60" x2="317.70" y2="356.30" stroke="#4a55d8" stroke-width="1.5"/>
<line x1="190.80" y1="323.60" x2="319.20" y2="323.60" stroke="#222" stroke-width="0.9" stroke-dasharray="0.9 0.9"/>
<line x1="190.80" y1="300.75" x2="190.80" y2="402.50" stroke="#000" stroke-width="1.3"/>
<line x1="192.00" y1="404.30" x2="319.20" y2="404.30" stroke="#000" stroke-width="1.3"/>
<line x1="188.20" y1="312.50" x2="190.80" y2="312.50" stroke="#000" stroke-width="1.0"/>
<line x1="188.20" y1="334.90" x2="190.80" y2="334.90" stroke="#000" stroke-width="1.0"/>
<line x1="188.20" y1="357.30" x2="190.80" y2="357.30" stroke="#000" stroke-width="1.0"/>
<line x1="188.20" y1="379.70" x2="190.80" y2="379.70" stroke="#000" stroke-width="1.0"/>
<line x1="186.60" y1="402.00" x2="190.80" y2="402.00" stroke="#000" stroke-width="1.3"/>
<line x1="186.60" y1="301.30" x2="190.80" y2="301.30" stroke="#000" stroke-width="1.3"/>
<text x="185.20" y="304.28" font-size="8.6" text-anchor="end">2</text>
<line x1="186.60" y1="323.70" x2="190.80" y2="323.70" stroke="#000" stroke-width="1.3"/>
<text x="185.20" y="326.68" font-size="8.6" text-anchor="end">0</text>
<line x1="186.60" y1="346.10" x2="190.80" y2="346.10" stroke="#000" stroke-width="1.3"/>
<text x="185.20" y="349.08" font-size="8.6" text-anchor="end">−2</text>
<line x1="186.60" y1="368.50" x2="190.80" y2="368.50" stroke="#000" stroke-width="1.3"/>
<text x="185.20" y="371.48" font-size="8.6" text-anchor="end">−4</text>
<line x1="186.60" y1="390.90" x2="190.80" y2="390.90" stroke="#000" stroke-width="1.3"/>
<text x="185.20" y="393.88" font-size="8.6" text-anchor="end">−6</text>
<line x1="192.60" y1="404.30" x2="192.60" y2="408.30" stroke="#000" stroke-width="1.3"/>
<text x="192.60" y="417.08" font-size="8.3" text-anchor="middle">0</text>
<line x1="227.84" y1="404.30" x2="227.84" y2="408.30" stroke="#000" stroke-width="1.3"/>
<text x="227.84" y="417.08" font-size="8.3" text-anchor="middle">200</text>
<line x1="263.08" y1="404.30" x2="263.08" y2="408.30" stroke="#000" stroke-width="1.3"/>
<text x="263.08" y="417.08" font-size="8.3" text-anchor="middle">400</text>
<line x1="298.32" y1="404.30" x2="298.32" y2="408.30" stroke="#000" stroke-width="1.3"/>
<text x="298.32" y="417.08" font-size="8.3" text-anchor="middle">600</text>
<text x="252.80" y="429.88" font-size="8.3" text-anchor="middle" textLength="102.0" lengthAdjust="spacingAndGlyphs">Significantly changed genes</text>
<text x="172.12" y="351.70" font-size="9.0" text-anchor="middle" transform="rotate(-90 172.12 351.70)" textLength="101.0" lengthAdjust="spacingAndGlyphs">Fold change expression</text>
<text x="191.30" y="301.68" font-size="8.6" textLength="24.0" lengthAdjust="spacingAndGlyphs">PITX1</text>
<text x="214.80" y="299.28" font-size="8.6" textLength="25.5" lengthAdjust="spacingAndGlyphs">MEIS1</text>
<text x="223.50" y="306.98" font-size="8.6" textLength="27.5" lengthAdjust="spacingAndGlyphs">FOXP2</text>
<text x="237.00" y="313.78" font-size="8.6" textLength="21.5" lengthAdjust="spacingAndGlyphs">OSR1</text>
<text x="203.80" y="349.28" font-size="8.6" textLength="26.4" lengthAdjust="spacingAndGlyphs">FOXF1</text>
<text x="229.70" y="356.08" font-size="8.6" textLength="19.8" lengthAdjust="spacingAndGlyphs">XCL1</text>
<text x="244.20" y="362.28" font-size="8.6" textLength="12.2" lengthAdjust="spacingAndGlyphs">KIT</text>
<text x="249.00" y="369.28" font-size="8.6" textLength="26.4" lengthAdjust="spacingAndGlyphs">SPRY4</text>
<text x="258.10" y="376.08" font-size="8.6" textLength="27.0" lengthAdjust="spacingAndGlyphs">GPR20</text>
<text x="269.20" y="382.78" font-size="8.6" textLength="27.3" lengthAdjust="spacingAndGlyphs">DUSP6</text>
<text x="283.70" y="388.88" font-size="8.6" textLength="27.0" lengthAdjust="spacingAndGlyphs">HAND1</text>
<line x1="193.70" y1="302.30" x2="196.30" y2="308.20" stroke="#111" stroke-width="0.55"/>
<line x1="215.80" y1="299.40" x2="206.00" y2="309.20" stroke="#111" stroke-width="0.55"/>
<line x1="223.80" y1="304.60" x2="216.50" y2="310.20" stroke="#111" stroke-width="0.55"/>
<line x1="236.30" y1="310.90" x2="229.00" y2="310.90" stroke="#111" stroke-width="0.55"/>
<line x1="229.00" y1="310.90" x2="228.60" y2="312.00" stroke="#111" stroke-width="0.55"/>
<line x1="230.40" y1="345.20" x2="238.40" y2="336.20" stroke="#111" stroke-width="0.55"/>
<line x1="249.80" y1="352.30" x2="302.00" y2="339.40" stroke="#111" stroke-width="0.55"/>
<line x1="256.50" y1="358.40" x2="305.80" y2="340.30" stroke="#111" stroke-width="0.55"/>
<line x1="275.60" y1="364.40" x2="312.30" y2="344.60" stroke="#111" stroke-width="0.55"/>
<line x1="285.20" y1="371.40" x2="314.30" y2="347.50" stroke="#111" stroke-width="0.55"/>
<line x1="296.70" y1="378.20" x2="315.80" y2="353.30" stroke="#111" stroke-width="0.55"/>
<line x1="311.60" y1="383.80" x2="317.60" y2="356.50" stroke="#111" stroke-width="0.55"/>
</g>
<g id="panelH">
<text x="324.80" y="289.50" font-size="14.5" font-weight="bold">H</text>
<line x1="354.00" y1="299.05" x2="354.00" y2="404.85" stroke="#000" stroke-width="1.3"/>
<line x1="353.45" y1="404.30" x2="517.50" y2="404.30" stroke="#000" stroke-width="1.3"/>
<line x1="349.50" y1="299.60" x2="354.00" y2="299.60" stroke="#000" stroke-width="1.3"/>
<text x="348.40" y="302.18" font-size="8.3" text-anchor="end">1.5</text>
<line x1="349.50" y1="334.50" x2="354.00" y2="334.50" stroke="#000" stroke-width="1.3"/>
<text x="348.40" y="337.08" font-size="8.3" text-anchor="end">1.0</text>
<line x1="349.50" y1="369.40" x2="354.00" y2="369.40" stroke="#000" stroke-width="1.3"/>
<text x="348.40" y="371.98" font-size="8.3" text-anchor="end">0.5</text>
<line x1="349.50" y1="404.30" x2="354.00" y2="404.30" stroke="#000" stroke-width="1.3"/>
<text x="348.40" y="406.88" font-size="8.3" text-anchor="end">0</text>
<text x="335.48" y="352.30" font-size="8.3" text-anchor="middle" transform="rotate(-90 335.48 352.30)" textLength="68.4" lengthAdjust="spacingAndGlyphs">Normalized FPKM</text>
<line x1="359.30" y1="332.06" x2="359.30" y2="334.50" stroke="#333" stroke-width="0.6"/>
<line x1="357.70" y1="332.06" x2="360.90" y2="332.06" stroke="#333" stroke-width="0.6"/>
<line x1="357.70" y1="334.50" x2="360.90" y2="334.50" stroke="#333" stroke-width="0.6"/>
<rect x="355.80" y="334.50" width="7.00" height="69.80" fill="#000"/>
<line x1="366.30" y1="382.66" x2="366.30" y2="384.06" stroke="#333" stroke-width="0.6"/>
<line x1="364.70" y1="382.66" x2="367.90" y2="382.66" stroke="#333" stroke-width="0.6"/>
<line x1="364.70" y1="384.06" x2="367.90" y2="384.06" stroke="#333" stroke-width="0.6"/>
<rect x="362.80" y="384.06" width="7.00" height="20.24" fill="#d9a514" stroke="#222" stroke-width="0.4"/>
<line x1="373.30" y1="332.27" x2="373.30" y2="333.10" stroke="#333" stroke-width="0.6"/>
<line x1="371.70" y1="332.27" x2="374.90" y2="332.27" stroke="#333" stroke-width="0.6"/>
<line x1="371.70" y1="333.10" x2="374.90" y2="333.10" stroke="#333" stroke-width="0.6"/>
<rect x="369.80" y="333.10" width="7.00" height="71.20" fill="#ff2b0f" stroke="#5a1208" stroke-width="0.4"/>
<line x1="367.50" y1="404.30" x2="367.50" y2="409.30" stroke="#000" stroke-width="1.3"/>
<text x="367.80" y="411.20" font-size="8.3" text-anchor="end" transform="rotate(-45 367.80 411.20)">ETV1</text>
<line x1="387.20" y1="333.80" x2="387.20" y2="334.50" stroke="#333" stroke-width="0.6"/>
<line x1="385.60" y1="333.80" x2="388.80" y2="333.80" stroke="#333" stroke-width="0.6"/>
<line x1="385.60" y1="334.50" x2="388.80" y2="334.50" stroke="#333" stroke-width="0.6"/>
<rect x="383.70" y="334.50" width="7.00" height="69.80" fill="#000"/>
<line x1="394.20" y1="322.84" x2="394.20" y2="323.68" stroke="#333" stroke-width="0.6"/>
<line x1="392.60" y1="322.84" x2="395.80" y2="322.84" stroke="#333" stroke-width="0.6"/>
<line x1="392.60" y1="323.68" x2="395.80" y2="323.68" stroke="#333" stroke-width="0.6"/>
<rect x="390.70" y="323.68" width="7.00" height="80.62" fill="#d9a514" stroke="#222" stroke-width="0.4"/>
<line x1="401.20" y1="380.43" x2="401.20" y2="381.27" stroke="#333" stroke-width="0.6"/>
<line x1="399.60" y1="380.43" x2="402.80" y2="380.43" stroke="#333" stroke-width="0.6"/>
<line x1="399.60" y1="381.27" x2="402.80" y2="381.27" stroke="#333" stroke-width="0.6"/>
<rect x="397.70" y="381.27" width="7.00" height="23.03" fill="#ff2b0f" stroke="#5a1208" stroke-width="0.4"/>
<line x1="395.40" y1="404.30" x2="395.40" y2="409.30" stroke="#000" stroke-width="1.3"/>
<text x="395.70" y="411.20" font-size="8.3" text-anchor="end" transform="rotate(-45 395.70 411.20)">HAND1</text>
<line x1="415.10" y1="333.10" x2="415.10" y2="334.50" stroke="#333" stroke-width="0.6"/>
<line x1="413.50" y1="333.10" x2="416.70" y2="333.10" stroke="#333" stroke-width="0.6"/>
<line x1="413.50" y1="334.50" x2="416.70" y2="334.50" stroke="#333" stroke-width="0.6"/>
<rect x="411.60" y="334.50" width="7.00" height="69.80" fill="#000"/>
<line x1="422.10" y1="331.71" x2="422.10" y2="334.85" stroke="#333" stroke-width="0.6"/>
<line x1="420.50" y1="331.71" x2="423.70" y2="331.71" stroke="#333" stroke-width="0.6"/>
<line x1="420.50" y1="334.85" x2="423.70" y2="334.85" stroke="#333" stroke-width="0.6"/>
<rect x="418.60" y="334.85" width="7.00" height="69.45" fill="#d9a514" stroke="#222" stroke-width="0.4"/>
<line x1="429.10" y1="345.32" x2="429.10" y2="346.72" stroke="#333" stroke-width="0.6"/>
<line x1="427.50" y1="345.32" x2="430.70" y2="345.32" stroke="#333" stroke-width="0.6"/>
<line x1="427.50" y1="346.72" x2="430.70" y2="346.72" stroke="#333" stroke-width="0.6"/>
<rect x="425.60" y="346.72" width="7.00" height="57.58" fill="#ff2b0f" stroke="#5a1208" stroke-width="0.4"/>
<line x1="423.30" y1="404.30" x2="423.30" y2="409.30" stroke="#000" stroke-width="1.3"/>
<text x="423.60" y="411.20" font-size="8.3" text-anchor="end" transform="rotate(-45 423.60 411.20)">HOXC10</text>
<line x1="443.00" y1="333.10" x2="443.00" y2="334.50" stroke="#333" stroke-width="0.6"/>
<line x1="441.40" y1="333.10" x2="444.60" y2="333.10" stroke="#333" stroke-width="0.6"/>
<line x1="441.40" y1="334.50" x2="444.60" y2="334.50" stroke="#333" stroke-width="0.6"/>
<rect x="439.50" y="334.50" width="7.00" height="69.80" fill="#000"/>
<line x1="450.00" y1="333.10" x2="450.00" y2="333.80" stroke="#333" stroke-width="0.6"/>
<line x1="448.40" y1="333.10" x2="451.60" y2="333.10" stroke="#333" stroke-width="0.6"/>
<line x1="448.40" y1="333.80" x2="451.60" y2="333.80" stroke="#333" stroke-width="0.6"/>
<rect x="446.50" y="333.80" width="7.00" height="70.50" fill="#d9a514" stroke="#222" stroke-width="0.4"/>
<line x1="457.00" y1="341.69" x2="457.00" y2="342.53" stroke="#333" stroke-width="0.6"/>
<line x1="455.40" y1="341.69" x2="458.60" y2="341.69" stroke="#333" stroke-width="0.6"/>
<line x1="455.40" y1="342.53" x2="458.60" y2="342.53" stroke="#333" stroke-width="0.6"/>
<rect x="453.50" y="342.53" width="7.00" height="61.77" fill="#ff2b0f" stroke="#5a1208" stroke-width="0.4"/>
<line x1="451.20" y1="404.30" x2="451.20" y2="409.30" stroke="#000" stroke-width="1.3"/>
<text x="451.50" y="411.20" font-size="8.3" text-anchor="end" transform="rotate(-45 451.50 411.20)">FOXF1</text>
<line x1="470.90" y1="333.10" x2="470.90" y2="334.50" stroke="#333" stroke-width="0.6"/>
<line x1="469.30" y1="333.10" x2="472.50" y2="333.10" stroke="#333" stroke-width="0.6"/>
<line x1="469.30" y1="334.50" x2="472.50" y2="334.50" stroke="#333" stroke-width="0.6"/>
<rect x="467.40" y="334.50" width="7.00" height="69.80" fill="#000"/>
<line x1="477.90" y1="332.06" x2="477.90" y2="334.85" stroke="#333" stroke-width="0.6"/>
<line x1="476.30" y1="332.06" x2="479.50" y2="332.06" stroke="#333" stroke-width="0.6"/>
<line x1="476.30" y1="334.85" x2="479.50" y2="334.85" stroke="#333" stroke-width="0.6"/>
<rect x="474.40" y="334.85" width="7.00" height="69.45" fill="#d9a514" stroke="#222" stroke-width="0.4"/>
<line x1="484.90" y1="350.41" x2="484.90" y2="351.25" stroke="#333" stroke-width="0.6"/>
<line x1="483.30" y1="350.41" x2="486.50" y2="350.41" stroke="#333" stroke-width="0.6"/>
<line x1="483.30" y1="351.25" x2="486.50" y2="351.25" stroke="#333" stroke-width="0.6"/>
<rect x="481.40" y="351.25" width="7.00" height="53.05" fill="#ff2b0f" stroke="#5a1208" stroke-width="0.4"/>
<line x1="479.10" y1="404.30" x2="479.10" y2="409.30" stroke="#000" stroke-width="1.3"/>
<text x="479.40" y="411.20" font-size="8.3" text-anchor="end" transform="rotate(-45 479.40 411.20)">HOXA11</text>
<line x1="498.80" y1="332.06" x2="498.80" y2="334.50" stroke="#333" stroke-width="0.6"/>
<line x1="497.20" y1="332.06" x2="500.40" y2="332.06" stroke="#333" stroke-width="0.6"/>
<line x1="497.20" y1="334.50" x2="500.40" y2="334.50" stroke="#333" stroke-width="0.6"/>
<rect x="495.30" y="334.50" width="7.00" height="69.80" fill="#000"/>
<line x1="505.80" y1="319.14" x2="505.80" y2="321.24" stroke="#333" stroke-width="0.6"/>
<line x1="504.20" y1="319.14" x2="507.40" y2="319.14" stroke="#333" stroke-width="0.6"/>
<line x1="504.20" y1="321.24" x2="507.40" y2="321.24" stroke="#333" stroke-width="0.6"/>
<rect x="502.30" y="321.24" width="7.00" height="83.06" fill="#d9a514" stroke="#222" stroke-width="0.4"/>
<line x1="512.80" y1="301.69" x2="512.80" y2="304.14" stroke="#333" stroke-width="0.6"/>
<line x1="511.20" y1="301.69" x2="514.40" y2="301.69" stroke="#333" stroke-width="0.6"/>
<line x1="511.20" y1="304.14" x2="514.40" y2="304.14" stroke="#333" stroke-width="0.6"/>
<rect x="509.30" y="304.14" width="7.00" height="100.16" fill="#ff2b0f" stroke="#5a1208" stroke-width="0.4"/>
<line x1="507.00" y1="404.30" x2="507.00" y2="409.30" stroke="#000" stroke-width="1.3"/>
<text x="507.30" y="411.20" font-size="8.3" text-anchor="end" transform="rotate(-45 507.30 411.20)">PITX1</text>
<text x="366.70" y="386.29" font-size="9.4" text-anchor="middle" font-weight="bold" textLength="10.8" lengthAdjust="spacingAndGlyphs">***</text>
<text x="394.40" y="325.49" font-size="9.4" text-anchor="middle" font-weight="bold" textLength="10.8" lengthAdjust="spacingAndGlyphs">***</text>
<text x="401.80" y="382.39" font-size="9.4" text-anchor="middle" font-weight="bold" textLength="10.8" lengthAdjust="spacingAndGlyphs">***</text>
<text x="429.00" y="345.79" font-size="9.4" text-anchor="middle" font-weight="bold" textLength="10.8" lengthAdjust="spacingAndGlyphs">***</text>
<text x="457.50" y="343.49" font-size="9.4" text-anchor="middle" font-weight="bold" textLength="10.8" lengthAdjust="spacingAndGlyphs">***</text>
<text x="485.00" y="353.09" font-size="9.4" text-anchor="middle" font-weight="bold" textLength="10.8" lengthAdjust="spacingAndGlyphs">***</text>
<text x="506.20" y="322.69" font-size="9.4" text-anchor="middle" font-weight="bold" textLength="10.8" lengthAdjust="spacingAndGlyphs">***</text>
<text x="512.30" y="303.49" font-size="9.4" text-anchor="middle" font-weight="bold" textLength="10.8" lengthAdjust="spacingAndGlyphs">***</text>
<rect x="359.60" y="290.00" width="9.20" height="8.20" fill="#000"/>
<text x="369.30" y="296.68" font-size="8.3" textLength="22.5" lengthAdjust="spacingAndGlyphs">sgLuc</text>
<rect x="359.60" y="300.75" width="9.20" height="8.20" fill="#d9a514" stroke="#222" stroke-width="0.4"/>
<text x="369.30" y="307.08" font-size="8.3" textLength="29.5" lengthAdjust="spacingAndGlyphs">sgETV1</text>
<rect x="359.60" y="311.50" width="9.20" height="8.20" fill="#ff2b0f" stroke="#5a1208" stroke-width="0.4"/>
<text x="369.30" y="317.48" font-size="8.3" textLength="37.0" lengthAdjust="spacingAndGlyphs">sgHAND1</text>
</g>
<g id="panelI">
<text x="53.00" y="456.00" font-size="14.5" font-weight="bold">I</text>
<line x1="85.50" y1="452.80" x2="85.50" y2="558.25" stroke="#000" stroke-width="1.3"/>
<line x1="84.95" y1="557.70" x2="184.30" y2="557.70" stroke="#000" stroke-width="1.3"/>
<line x1="81.00" y1="462.50" x2="85.50" y2="462.50" stroke="#000" stroke-width="1.3"/>
<text x="79.90" y="465.38" font-size="8.3" text-anchor="end">1</text>
<line x1="81.00" y1="510.10" x2="85.50" y2="510.10" stroke="#000" stroke-width="1.3"/>
<text x="79.90" y="512.98" font-size="8.3" text-anchor="end">0.5</text>
<line x1="81.00" y1="557.70" x2="85.50" y2="557.70" stroke="#000" stroke-width="1.3"/>
<text x="79.90" y="560.58" font-size="8.3" text-anchor="end">0</text>
<text x="61.88" y="505.30" font-size="8.3" text-anchor="middle" transform="rotate(-90 61.88 505.30)" textLength="67.7" lengthAdjust="spacingAndGlyphs">Normalized FPKM</text>
<line x1="92.15" y1="456.31" x2="92.15" y2="462.02" stroke="#333" stroke-width="0.6"/>
<line x1="90.35" y1="456.31" x2="93.95" y2="456.31" stroke="#333" stroke-width="0.6"/>
<line x1="90.35" y1="462.02" x2="93.95" y2="462.02" stroke="#333" stroke-width="0.6"/>
<rect x="87.80" y="462.02" width="8.70" height="95.68" fill="#000"/>
<line x1="100.85" y1="457.74" x2="100.85" y2="462.50" stroke="#333" stroke-width="0.6"/>
<line x1="99.05" y1="457.74" x2="102.65" y2="457.74" stroke="#333" stroke-width="0.6"/>
<line x1="99.05" y1="462.50" x2="102.65" y2="462.50" stroke="#333" stroke-width="0.6"/>
<rect x="96.50" y="462.50" width="8.70" height="95.20" fill="#d9a514" stroke="#222" stroke-width="0.4"/>
<line x1="109.55" y1="482.78" x2="109.55" y2="484.21" stroke="#333" stroke-width="0.6"/>
<line x1="107.75" y1="482.78" x2="111.35" y2="482.78" stroke="#333" stroke-width="0.6"/>
<line x1="107.75" y1="484.21" x2="111.35" y2="484.21" stroke="#333" stroke-width="0.6"/>
<rect x="105.20" y="484.21" width="8.70" height="73.49" fill="#ff2b0f" stroke="#5a1208" stroke-width="0.4"/>
<line x1="101.15" y1="557.70" x2="101.15" y2="560.90" stroke="#000" stroke-width="1.3"/>
<text x="100.65" y="570.48" font-size="8.3" text-anchor="middle">KIT</text>
<line x1="126.75" y1="458.50" x2="126.75" y2="461.83" stroke="#333" stroke-width="0.6"/>
<line x1="124.95" y1="458.50" x2="128.55" y2="458.50" stroke="#333" stroke-width="0.6"/>
<line x1="124.95" y1="461.83" x2="128.55" y2="461.83" stroke="#333" stroke-width="0.6"/>
<rect x="122.40" y="461.83" width="8.70" height="95.87" fill="#000"/>
<line x1="135.45" y1="483.44" x2="135.45" y2="485.35" stroke="#333" stroke-width="0.6"/>
<line x1="133.65" y1="483.44" x2="137.25" y2="483.44" stroke="#333" stroke-width="0.6"/>
<line x1="133.65" y1="485.35" x2="137.25" y2="485.35" stroke="#333" stroke-width="0.6"/>
<rect x="131.10" y="485.35" width="8.70" height="72.35" fill="#d9a514" stroke="#222" stroke-width="0.4"/>
<line x1="144.15" y1="499.63" x2="144.15" y2="500.77" stroke="#333" stroke-width="0.6"/>
<line x1="142.35" y1="499.63" x2="145.95" y2="499.63" stroke="#333" stroke-width="0.6"/>
<line x1="142.35" y1="500.77" x2="145.95" y2="500.77" stroke="#333" stroke-width="0.6"/>
<rect x="139.80" y="500.77" width="8.70" height="56.93" fill="#ff2b0f" stroke="#5a1208" stroke-width="0.4"/>
<line x1="135.75" y1="557.70" x2="135.75" y2="560.90" stroke="#000" stroke-width="1.3"/>
<text x="135.25" y="570.48" font-size="8.3" text-anchor="middle">SPRY4</text>
<line x1="161.35" y1="459.93" x2="161.35" y2="461.83" stroke="#333" stroke-width="0.6"/>
<line x1="159.55" y1="459.93" x2="163.15" y2="459.93" stroke="#333" stroke-width="0.6"/>
<line x1="159.55" y1="461.83" x2="163.15" y2="461.83" stroke="#333" stroke-width="0.6"/>
<rect x="157.00" y="461.83" width="8.70" height="95.87" fill="#000"/>
<line x1="170.05" y1="487.73" x2="170.05" y2="491.06" stroke="#333" stroke-width="0.6"/>
<line x1="168.25" y1="487.73" x2="171.85" y2="487.73" stroke="#333" stroke-width="0.6"/>
<line x1="168.25" y1="491.06" x2="171.85" y2="491.06" stroke="#333" stroke-width="0.6"/>
<rect x="165.70" y="491.06" width="8.70" height="66.64" fill="#d9a514" stroke="#222" stroke-width="0.4"/>
<line x1="178.75" y1="515.34" x2="178.75" y2="516.48" stroke="#333" stroke-width="0.6"/>
<line x1="176.95" y1="515.34" x2="180.55" y2="515.34" stroke="#333" stroke-width="0.6"/>
<line x1="176.95" y1="516.48" x2="180.55" y2="516.48" stroke="#333" stroke-width="0.6"/>
<rect x="174.40" y="516.48" width="8.70" height="41.22" fill="#ff2b0f" stroke="#5a1208" stroke-width="0.4"/>
<line x1="170.35" y1="557.70" x2="170.35" y2="560.90" stroke="#000" stroke-width="1.3"/>
<text x="169.85" y="570.48" font-size="8.3" text-anchor="middle">DUSP6</text>
<text x="110.00" y="484.09" font-size="9.4" text-anchor="middle" font-weight="bold" textLength="10.8" lengthAdjust="spacingAndGlyphs">***</text>
<text x="135.80" y="485.59" font-size="9.4" text-anchor="middle" font-weight="bold" textLength="10.8" lengthAdjust="spacingAndGlyphs">***</text>
<text x="144.50" y="501.69" font-size="9.4" text-anchor="middle" font-weight="bold" textLength="10.8" lengthAdjust="spacingAndGlyphs">***</text>
<text x="171.60" y="491.09" font-size="9.4" text-anchor="middle" font-weight="bold" textLength="7.2" lengthAdjust="spacingAndGlyphs">**</text>
<text x="179.20" y="517.19" font-size="9.4" text-anchor="middle" font-weight="bold" textLength="10.8" lengthAdjust="spacingAndGlyphs">***</text>
<rect x="177.00" y="450.20" width="9.80" height="8.60" fill="#000"/>
<text x="187.60" y="457.38" font-size="8.3" textLength="22.5" lengthAdjust="spacingAndGlyphs">sgLuc</text>
<rect x="177.00" y="460.50" width="9.80" height="8.60" fill="#d9a514" stroke="#222" stroke-width="0.4"/>
<text x="187.60" y="467.68" font-size="8.3" textLength="29.5" lengthAdjust="spacingAndGlyphs">sgETV1</text>
<rect x="177.00" y="470.80" width="9.80" height="8.60" fill="#ff2b0f" stroke="#5a1208" stroke-width="0.4"/>
<text x="187.60" y="477.98" font-size="8.3" textLength="37.0" lengthAdjust="spacingAndGlyphs">sgHAND1</text>
</g>
<g id="panelJ">
<text x="237.30" y="457.30" font-size="14.5" font-weight="bold">J</text>
<polygon points="258.6,483.40 258.6,482.85 259.1,482.74 259.6,482.20 260.1,482.83 260.6,482.79 261.1,482.70 261.6,483.02 262.1,482.79 262.6,482.65 263.1,482.42 263.6,483.04 264.1,482.96 264.6,483.04 265.1,482.39 265.6,482.57 266.1,483.05 266.6,482.09 267.1,482.12 267.6,482.62 268.1,482.67 268.6,483.03 269.1,483.05 269.6,482.77 270.1,483.05 270.6,483.01 271.1,482.99 271.6,483.05 272.1,482.83 272.6,482.86 273.1,482.34 273.6,482.78 274.1,482.64 274.6,482.80 275.1,482.61 275.6,482.84 276.1,482.97 276.6,482.05 277.1,482.06 277.6,482.34 278.1,482.55 278.6,482.95 279.1,483.00 279.6,482.97 280.1,483.05 280.6,482.46 281.1,482.89 281.6,482.33 282.1,482.90 282.6,482.13 283.1,482.33 283.6,483.05 284.1,483.01 284.6,482.22 285.1,482.83 285.6,482.09 286.1,482.89 286.6,483.04 287.1,482.65 287.6,482.44 288.1,482.98 288.6,483.04 289.1,482.94 289.6,482.11 290.1,482.26 290.6,481.75 291.1,481.04 291.6,482.30 292.1,482.98 292.6,482.41 293.1,483.02 293.6,482.74 294.1,482.85 294.6,483.01 295.1,482.51 295.6,483.03 296.1,482.64 296.6,483.04 297.1,482.87 297.6,483.00 298.1,482.98 298.6,482.11 299.1,482.40 299.6,482.96 300.1,482.27 300.6,483.01 301.1,482.89 301.6,482.32 302.1,482.64 302.6,483.04 303.1,482.07 303.6,483.00 304.1,482.98 304.6,482.45 305.1,482.94 305.6,482.96 306.1,483.04 306.6,483.04 307.1,482.71 307.6,482.99 308.1,482.69 308.6,482.91 309.1,482.84 309.6,482.13 310.1,482.82 310.6,482.72 311.1,482.30 311.6,483.02 312.1,483.03 312.6,482.22 313.1,482.38 313.6,482.99 314.1,483.01 314.6,482.50 315.1,482.17 315.6,483.01 316.1,482.15 316.6,482.27 317.1,482.69 317.6,482.87 318.1,483.04 318.6,483.05 319.1,482.12 319.6,482.99 320.1,482.55 320.6,482.98 321.1,482.37 321.6,482.69 322.1,482.96 322.6,483.02 323.1,482.53 323.6,483.05 324.1,483.00 324.6,482.74 325.1,482.32 325.6,482.67 326.1,482.97 326.6,482.21 327.1,483.01 327.6,483.05 328.1,482.98 328.6,482.85 329.1,483.05 329.6,483.02 330.1,482.91 330.6,482.72 331.1,483.03 331.6,482.92 332.1,482.26 332.6,482.09 333.1,482.62 333.6,482.57 334.1,482.71 334.6,483.03 335.1,483.05 335.6,483.05 336.1,482.22 336.6,482.56 337.1,482.12 337.6,483.05 338.1,482.65 338.6,482.82 339.1,482.52 339.6,482.95 340.1,482.05 340.6,483.04 341.1,482.75 341.6,482.51 342.1,482.24 342.6,482.51 343.1,482.55 343.6,482.42 344.1,482.21 344.6,482.92 345.1,482.39 345.6,481.08 346.1,480.54 346.6,482.21 347.1,482.36 347.6,482.30 348.1,482.72 348.6,482.66 349.1,482.90 349.6,482.71 350.1,482.68 350.6,483.04 351.1,482.64 351.6,482.06 352.1,482.28 352.6,482.52 353.1,482.90 353.6,482.51 354.1,482.71 354.6,482.86 355.1,482.35 355.6,483.04 356.1,482.49 356.6,483.05 357.1,482.69 357.6,482.82 358.1,483.00 358.6,482.56 359.1,482.80 359.6,482.67 360.1,482.20 360.6,482.98 361.1,483.05 361.6,482.96 362.1,482.59 362.6,483.01 363.1,483.02 363.6,482.19 364.1,482.37 364.6,481.71 365.1,478.57 365.6,474.80 366.1,470.26 366.6,470.17 367.1,473.68 367.6,477.82 368.1,480.48 368.6,481.52 369.1,482.21 369.6,481.81 370.1,481.78 370.6,481.63 371.1,481.24 371.6,480.75 372.1,480.82 372.6,481.23 373.1,481.08 373.6,482.17 374.1,482.42 374.6,482.29 375.1,481.79 375.6,478.67 376.1,470.48 376.6,461.27 377.1,461.07 377.6,468.08 378.1,470.79 378.6,465.99 379.1,460.60 379.6,463.32 380.1,472.89 380.6,479.18 381.1,482.39 381.6,482.41 382.1,482.69 382.6,482.95 383.1,482.42 383.6,483.05 384.1,483.03 384.6,482.84 385.1,483.05 385.6,482.36 386.1,482.99 386.6,483.03 387.1,483.05 387.6,482.65 388.1,482.85 388.6,482.65 389.1,482.62 389.6,482.40 390.1,482.13 390.6,482.58 391.1,483.01 391.6,482.82 392.1,483.02 392.6,483.05 393.1,482.83 393.6,482.54 394.1,483.02 394.6,482.98 395.1,482.93 395.6,482.56 396.1,482.77 396.6,482.60 397.1,482.06 397.6,481.73 398.1,480.95 398.6,481.37 399.1,482.82 399.6,482.15 400.1,482.53 400.6,483.03 401.1,482.84 401.6,482.66 402.1,482.22 402.6,482.91 403.1,482.73 403.6,482.28 404.1,482.42 404.6,482.16 405.1,482.83 405.6,482.63 406.1,483.01 406.6,482.53 407.1,482.38 407.6,482.64 408.1,482.53 408.6,483.00 409.1,482.24 409.6,482.09 410.1,482.09 410.6,482.76 411.1,482.42 411.6,482.95 412.1,482.22 412.6,482.32 413.1,482.93 413.6,483.04 414.1,482.86 414.6,482.75 415.1,482.46 415.6,482.81 416.1,483.05 416.6,482.40 417.1,483.05 417.6,482.41 418.1,483.02 418.6,482.94 419.1,482.43 419.6,483.03 420.1,483.03 420.6,482.78 421.1,482.53 421.6,482.34 422.1,482.57 422.6,482.16 423.1,482.81 423.6,482.15 424.1,483.04 424.6,483.00 425.1,482.77 425.6,482.97 426.1,482.52 426.6,482.64 427.1,482.77 427.6,482.31 428.1,482.51 428.6,481.93 429.1,479.78 429.6,476.02 430.1,473.75 430.6,475.06 431.1,475.35 431.6,472.16 432.1,466.50 432.6,464.23 433.1,470.02 433.6,477.22 434.1,481.36 434.6,482.46 435.1,483.03 435.6,482.11 436.1,482.78 436.6,482.89 437.1,482.41 437.6,482.73 438.1,482.81 438.6,482.57 439.1,483.05 439.6,482.76 440.1,482.88 440.6,482.13 441.1,482.20 441.6,482.98 442.1,482.83 442.6,483.03 443.1,482.86 443.6,482.38 444.1,482.24 444.6,482.82 445.1,482.95 445.6,483.01 446.1,482.67 446.6,482.19 447.1,483.03 447.6,482.44 448.1,483.05 448.6,483.01 449.1,483.00 449.6,482.58 450.1,482.95 450.6,482.92 451.1,482.67 451.6,483.04 452.1,482.52 452.6,483.03 453.1,482.79 453.6,482.99 454.1,483.01 454.6,482.77 455.1,482.86 455.6,482.91 456.1,482.88 456.6,482.77 457.1,483.02 457.6,483.01 458.1,482.65 458.6,482.64 459.1,482.77 459.6,482.33 460.1,482.68 460.6,482.32 461.1,483.00 461.6,482.50 462.1,482.39 462.6,482.24 463.1,482.95 463.6,482.95 464.1,482.20 464.6,483.00 465.1,482.05 465.6,482.26 466.1,483.03 466.6,482.99 467.1,482.52 467.6,482.98 468.1,483.04 468.6,482.36 469.1,482.87 469.6,482.43 470.1,483.03 470.6,482.89 471.1,482.58 471.6,483.05 472.1,483.01 472.6,482.58 473.1,482.22 473.6,482.11 474.1,483.04 474.6,482.79 475.1,482.48 475.6,482.80 476.1,482.58 476.6,483.01 477.1,483.05 477.6,483.04 478.1,483.05 478.6,482.75 479.1,482.78 479.6,482.73 480.1,483.03 480.6,483.02 481.1,483.01 481.6,482.34 482.1,482.07 482.6,482.19 483.0,483.40" fill="#e8131a"/>
<line x1="258.60" y1="483.40" x2="483.00" y2="483.40" stroke="#5a0a0a" stroke-width="0.9"/>
<line x1="258.60" y1="460.80" x2="258.60" y2="483.85" stroke="#000" stroke-width="1.0"/>
<line x1="256.80" y1="460.80" x2="258.60" y2="460.80" stroke="#000" stroke-width="0.8"/>
<text x="256.30" y="463.94" font-size="7.6" text-anchor="end">3</text>
<text x="260.90" y="466.58" font-size="8.3" textLength="27.4" lengthAdjust="spacingAndGlyphs">HAND1</text>
<polygon points="258.6,508.10 258.6,507.74 259.1,507.75 259.6,506.94 260.1,507.56 260.6,507.22 261.1,507.65 261.6,507.55 262.1,507.51 262.6,507.58 263.1,507.42 263.6,507.75 264.1,507.31 264.6,507.11 265.1,507.72 265.6,507.56 266.1,507.26 266.6,507.60 267.1,507.72 267.6,507.73 268.1,507.51 268.6,507.75 269.1,507.03 269.6,507.17 270.1,507.30 270.6,507.08 271.1,507.39 271.6,507.60 272.1,507.43 272.6,507.52 273.1,506.88 273.6,507.17 274.1,507.69 274.6,507.00 275.1,507.25 275.6,507.21 276.1,507.15 276.6,507.60 277.1,507.03 277.6,507.05 278.1,507.32 278.6,507.22 279.1,507.22 279.6,507.60 280.1,507.28 280.6,507.75 281.1,507.64 281.6,507.55 282.1,507.75 282.6,507.64 283.1,507.38 283.6,507.40 284.1,507.70 284.6,506.95 285.1,507.35 285.6,507.65 286.1,507.36 286.6,507.46 287.1,507.49 287.6,507.61 288.1,506.85 288.6,507.38 289.1,507.31 289.6,507.23 290.1,506.89 290.6,507.75 291.1,507.41 291.6,507.26 292.1,507.69 292.6,507.60 293.1,507.75 293.6,507.72 294.1,507.62 294.6,507.74 295.1,507.69 295.6,507.01 296.1,507.48 296.6,507.52 297.1,506.91 297.6,507.46 298.1,506.86 298.6,507.38 299.1,507.16 299.6,507.74 300.1,507.43 300.6,507.23 301.1,507.75 301.6,506.97 302.1,507.73 302.6,507.55 303.1,507.72 303.6,507.53 304.1,507.41 304.6,507.75 305.1,506.95 305.6,507.59 306.1,507.50 306.6,507.43 307.1,507.63 307.6,507.68 308.1,507.36 308.6,507.47 309.1,507.68 309.6,507.29 310.1,507.67 310.6,507.75 311.1,507.70 311.6,507.75 312.1,507.73 312.6,507.24 313.1,507.61 313.6,507.02 314.1,507.25 314.6,507.75 315.1,506.87 315.6,506.95 316.1,507.75 316.6,507.01 317.1,507.58 317.6,507.54 318.1,506.90 318.6,507.70 319.1,507.50 319.6,506.96 320.1,507.28 320.6,507.55 321.1,506.89 321.6,507.15 322.1,507.42 322.6,507.74 323.1,507.40 323.6,507.56 324.1,507.71 324.6,507.75 325.1,507.50 325.6,507.74 326.1,507.57 326.6,507.35 327.1,507.56 327.6,507.69 328.1,507.44 328.6,507.59 329.1,507.21 329.6,507.50 330.1,506.85 330.6,506.93 331.1,507.26 331.6,507.70 332.1,507.74 332.6,507.03 333.1,507.20 333.6,507.40 334.1,507.63 334.6,507.68 335.1,507.33 335.6,507.46 336.1,507.43 336.6,507.39 337.1,507.24 337.6,507.72 338.1,507.69 338.6,506.89 339.1,507.00 339.6,507.05 340.1,507.75 340.6,507.75 341.1,507.68 341.6,507.59 342.1,507.35 342.6,507.17 343.1,505.32 343.6,504.81 344.1,506.30 344.6,507.08 345.1,507.46 345.6,507.39 346.1,507.62 346.6,507.54 347.1,507.71 347.6,507.64 348.1,507.25 348.6,507.12 349.1,507.75 349.6,507.74 350.1,507.16 350.6,507.40 351.1,507.22 351.6,507.71 352.1,507.59 352.6,507.69 353.1,507.16 353.6,507.63 354.1,507.37 354.6,506.87 355.1,507.65 355.6,507.48 356.1,507.25 356.6,506.99 357.1,507.59 357.6,507.63 358.1,507.74 358.6,507.06 359.1,507.74 359.6,507.67 360.1,507.04 360.6,506.37 361.1,505.85 361.6,506.81 362.1,506.98 362.6,507.72 363.1,507.71 363.6,507.34 364.1,507.65 364.6,507.14 365.1,505.40 365.6,502.84 366.1,500.62 366.6,500.38 367.1,502.57 367.6,504.96 368.1,506.93 368.6,507.60 369.1,507.28 369.6,507.46 370.1,506.99 370.6,506.95 371.1,507.00 371.6,507.58 372.1,507.17 372.6,507.66 373.1,507.65 373.6,507.57 374.1,506.85 374.6,506.74 375.1,506.93 375.6,505.39 376.1,501.74 376.6,496.96 377.1,495.40 377.6,497.66 378.1,498.01 378.6,492.02 379.1,486.20 379.6,490.83 380.1,499.76 380.6,505.38 381.1,507.15 381.6,507.03 382.1,506.98 382.6,507.65 383.1,507.74 383.6,507.51 384.1,507.48 384.6,507.46 385.1,506.91 385.6,507.37 386.1,507.17 386.6,507.75 387.1,507.48 387.6,507.19 388.1,507.74 388.6,507.74 389.1,507.26 389.6,507.02 390.1,507.74 390.6,507.39 391.1,507.73 391.6,507.25 392.1,507.37 392.6,507.70 393.1,507.71 393.6,507.22 394.1,507.50 394.6,507.15 395.1,507.16 395.6,506.40 396.1,505.33 396.6,506.43 397.1,507.29 397.6,507.46 398.1,507.28 398.6,507.30 399.1,507.00 399.6,507.60 400.1,507.14 400.6,507.35 401.1,507.09 401.6,507.17 402.1,507.12 402.6,507.04 403.1,506.92 403.6,507.38 404.1,507.50 404.6,507.30 405.1,507.17 405.6,507.59 406.1,507.59 406.6,507.73 407.1,507.26 407.6,506.87 408.1,507.62 408.6,507.72 409.1,507.71 409.6,507.59 410.1,507.67 410.6,506.90 411.1,507.75 411.6,507.66 412.1,507.74 412.6,507.37 413.1,507.21 413.6,507.72 414.1,507.75 414.6,507.56 415.1,507.44 415.6,507.01 416.1,507.75 416.6,507.74 417.1,507.72 417.6,507.71 418.1,507.70 418.6,507.29 419.1,507.43 419.6,507.70 420.1,507.72 420.6,507.68 421.1,507.72 421.6,507.23 422.1,507.66 422.6,507.48 423.1,507.15 423.6,507.54 424.1,507.69 424.6,507.04 425.1,507.00 425.6,507.64 426.1,507.48 426.6,506.93 427.1,507.54 427.6,507.69 428.1,507.63 428.6,506.41 429.1,505.55 429.6,504.35 430.1,503.13 430.6,503.57 431.1,504.80 431.6,503.49 432.1,501.38 432.6,500.06 433.1,501.98 433.6,505.04 434.1,507.00 434.6,507.09 435.1,507.28 435.6,507.42 436.1,507.73 436.6,507.73 437.1,507.66 437.6,507.69 438.1,507.07 438.6,507.51 439.1,507.38 439.6,506.86 440.1,507.69 440.6,507.49 441.1,507.73 441.6,507.22 442.1,507.75 442.6,507.14 443.1,507.11 443.6,507.14 444.1,507.74 444.6,507.68 445.1,507.29 445.6,507.74 446.1,507.54 446.6,507.55 447.1,506.93 447.6,507.44 448.1,507.09 448.6,507.67 449.1,507.19 449.6,507.59 450.1,506.99 450.6,507.74 451.1,507.14 451.6,507.71 452.1,507.48 452.6,507.50 453.1,507.73 453.6,507.13 454.1,507.66 454.6,507.66 455.1,507.74 455.6,507.67 456.1,507.55 456.6,507.29 457.1,507.63 457.6,507.33 458.1,507.74 458.6,507.61 459.1,507.56 459.6,506.91 460.1,507.13 460.6,507.37 461.1,507.75 461.6,507.62 462.1,507.30 462.6,507.70 463.1,507.46 463.6,507.56 464.1,507.75 464.6,506.87 465.1,507.17 465.6,507.71 466.1,507.41 466.6,507.67 467.1,507.62 467.6,507.49 468.1,507.67 468.6,507.65 469.1,507.61 469.6,507.35 470.1,507.69 470.6,507.71 471.1,507.27 471.6,507.65 472.1,506.95 472.6,507.46 473.1,507.28 473.6,507.65 474.1,507.13 474.6,507.74 475.1,507.73 475.6,507.74 476.1,507.34 476.6,507.30 477.1,507.72 477.6,507.60 478.1,507.12 478.6,507.43 479.1,507.74 479.6,507.70 480.1,507.73 480.6,507.74 481.1,507.60 481.6,507.75 482.1,506.99 482.6,507.59 483.0,508.10" fill="#d9a514"/>
<line x1="258.60" y1="508.10" x2="483.00" y2="508.10" stroke="#3a2a00" stroke-width="0.9"/>
<line x1="258.60" y1="485.60" x2="258.60" y2="508.55" stroke="#000" stroke-width="1.0"/>
<line x1="256.80" y1="485.60" x2="258.60" y2="485.60" stroke="#000" stroke-width="0.8"/>
<text x="256.30" y="488.74" font-size="7.6" text-anchor="end">3</text>
<text x="260.90" y="491.38" font-size="8.3" textLength="20.5" lengthAdjust="spacingAndGlyphs">ETV1</text>
<polygon points="258.6,533.40 258.6,533.40 259.1,533.40 259.6,533.40 260.1,533.40 260.6,533.40 261.1,533.40 261.6,533.40 262.1,533.40 262.6,533.40 263.1,533.40 263.6,533.40 264.1,533.40 264.6,533.40 265.1,533.40 265.6,533.40 266.1,533.40 266.6,533.40 267.1,533.40 267.6,533.40 268.1,533.40 268.6,533.40 269.1,533.40 269.6,533.40 270.1,533.40 270.6,533.40 271.1,533.40 271.6,533.40 272.1,533.40 272.6,533.40 273.1,533.40 273.6,533.40 274.1,533.40 274.6,533.40 275.1,533.40 275.6,533.40 276.1,533.40 276.6,533.40 277.1,533.40 277.6,533.40 278.1,533.40 278.6,533.40 279.1,533.40 279.6,533.40 280.1,533.40 280.6,533.40 281.1,533.40 281.6,533.40 282.1,533.40 282.6,533.40 283.1,533.40 283.6,533.40 284.1,533.40 284.6,533.40 285.1,533.40 285.6,533.40 286.1,533.40 286.6,533.40 287.1,533.40 287.6,533.40 288.1,533.40 288.6,533.40 289.1,533.40 289.6,533.40 290.1,533.40 290.6,533.40 291.1,533.40 291.6,533.40 292.1,533.40 292.6,533.40 293.1,533.40 293.6,533.40 294.1,533.40 294.6,533.40 295.1,533.40 295.6,533.40 296.1,533.40 296.6,533.40 297.1,533.40 297.6,533.40 298.1,533.40 298.6,533.40 299.1,533.40 299.6,533.40 300.1,533.40 300.6,533.40 301.1,533.40 301.6,533.40 302.1,533.40 302.6,533.40 303.1,533.40 303.6,533.40 304.1,533.40 304.6,533.40 305.1,533.40 305.6,533.40 306.1,533.40 306.6,533.40 307.1,533.40 307.6,533.40 308.1,533.40 308.6,533.40 309.1,533.40 309.6,533.40 310.1,533.40 310.6,533.40 311.1,533.40 311.6,533.40 312.1,533.40 312.6,533.40 313.1,533.40 313.6,533.40 314.1,533.40 314.6,533.40 315.1,533.40 315.6,533.40 316.1,533.40 316.6,533.40 317.1,533.40 317.6,533.40 318.1,533.40 318.6,533.40 319.1,533.40 319.6,533.40 320.1,533.40 320.6,533.40 321.1,533.40 321.6,533.40 322.1,533.40 322.6,533.40 323.1,533.40 323.6,533.40 324.1,533.40 324.6,533.40 325.1,533.40 325.6,533.40 326.1,533.40 326.6,533.40 327.1,533.40 327.6,533.40 328.1,533.40 328.6,533.40 329.1,533.40 329.6,533.40 330.1,533.40 330.6,533.40 331.1,533.40 331.6,533.40 332.1,533.40 332.6,533.40 333.1,533.40 333.6,533.40 334.1,533.40 334.6,533.40 335.1,533.40 335.6,533.40 336.1,533.40 336.6,533.40 337.1,533.40 337.6,533.40 338.1,533.40 338.6,533.40 339.1,533.40 339.6,533.40 340.1,533.40 340.6,533.40 341.1,533.40 341.6,533.40 342.1,533.40 342.6,533.40 343.1,533.40 343.6,533.40 344.1,533.40 344.6,533.40 345.1,533.40 345.6,533.40 346.1,533.40 346.6,533.40 347.1,533.40 347.6,533.40 348.1,533.40 348.6,533.40 349.1,533.40 349.6,533.40 350.1,533.40 350.6,533.40 351.1,533.40 351.6,533.40 352.1,533.40 352.6,533.40 353.1,533.40 353.6,533.40 354.1,533.40 354.6,533.40 355.1,533.40 355.6,533.40 356.1,533.40 356.6,533.40 357.1,533.40 357.6,533.40 358.1,533.40 358.6,533.40 359.1,533.40 359.6,533.40 360.1,533.40 360.6,533.40 361.1,533.40 361.6,533.40 362.1,533.40 362.6,533.40 363.1,533.40 363.6,533.36 364.1,533.11 364.6,532.00 365.1,529.04 365.6,524.79 366.1,522.60 366.6,524.79 367.1,529.04 367.6,532.00 368.1,533.11 368.6,533.36 369.1,533.37 369.6,533.29 370.1,533.04 370.6,532.55 371.1,531.90 371.6,531.45 372.1,531.50 372.6,532.03 373.1,532.64 373.6,533.04 374.1,533.13 374.6,532.90 375.1,532.03 375.6,529.35 376.1,523.27 376.6,515.82 377.1,513.40 377.6,516.84 378.1,518.65 378.6,514.30 379.1,510.14 379.6,514.81 380.1,524.31 380.6,530.37 381.1,532.47 381.6,533.07 382.1,533.28 382.6,533.36 383.1,533.39 383.6,533.40 384.1,533.40 384.6,533.40 385.1,533.40 385.6,533.40 386.1,533.40 386.6,533.40 387.1,533.40 387.6,533.40 388.1,533.40 388.6,533.40 389.1,533.40 389.6,533.40 390.1,533.40 390.6,533.40 391.1,533.40 391.6,533.40 392.1,533.40 392.6,533.40 393.1,533.40 393.6,533.40 394.1,533.40 394.6,533.40 395.1,533.40 395.6,533.40 396.1,533.40 396.6,533.40 397.1,533.40 397.6,533.40 398.1,533.40 398.6,533.40 399.1,533.40 399.6,533.40 400.1,533.40 400.6,533.40 401.1,533.40 401.6,533.40 402.1,533.40 402.6,533.40 403.1,533.40 403.6,533.40 404.1,533.40 404.6,533.40 405.1,533.40 405.6,533.40 406.1,533.40 406.6,533.40 407.1,533.40 407.6,533.40 408.1,533.40 408.6,533.40 409.1,533.40 409.6,533.40 410.1,533.40 410.6,533.40 411.1,533.40 411.6,533.40 412.1,533.40 412.6,533.40 413.1,533.40 413.6,533.40 414.1,533.40 414.6,533.40 415.1,533.40 415.6,533.40 416.1,533.40 416.6,533.40 417.1,533.40 417.6,533.40 418.1,533.40 418.6,533.40 419.1,533.40 419.6,533.40 420.1,533.40 420.6,533.40 421.1,533.40 421.6,533.40 422.1,533.40 422.6,533.40 423.1,533.40 423.6,533.40 424.1,533.40 424.6,533.40 425.1,533.40 425.6,533.40 426.1,533.40 426.6,533.40 427.1,533.40 427.6,533.40 428.1,533.40 428.6,533.40 429.1,533.40 429.6,533.40 430.1,533.33 430.6,532.82 431.1,530.93 431.6,528.10 432.1,527.72 432.6,530.35 433.1,532.58 433.6,533.29 434.1,533.39 434.6,533.40 435.1,533.40 435.6,533.40 436.1,533.40 436.6,533.40 437.1,533.40 437.6,533.40 438.1,533.40 438.6,533.40 439.1,533.40 439.6,533.40 440.1,533.40 440.6,533.40 441.1,533.40 441.6,533.40 442.1,533.40 442.6,533.40 443.1,533.40 443.6,533.40 444.1,533.40 444.6,533.40 445.1,533.40 445.6,533.40 446.1,533.40 446.6,533.40 447.1,533.40 447.6,533.40 448.1,533.40 448.6,533.40 449.1,533.40 449.6,533.40 450.1,533.40 450.6,533.40 451.1,533.40 451.6,533.40 452.1,533.40 452.6,533.40 453.1,533.40 453.6,533.40 454.1,533.40 454.6,533.40 455.1,533.40 455.6,533.40 456.1,533.40 456.6,533.40 457.1,533.40 457.6,533.40 458.1,533.40 458.6,533.40 459.1,533.40 459.6,533.40 460.1,533.40 460.6,533.40 461.1,533.40 461.6,533.40 462.1,533.40 462.6,533.40 463.1,533.40 463.6,533.40 464.1,533.40 464.6,533.40 465.1,533.40 465.6,533.40 466.1,533.40 466.6,533.40 467.1,533.40 467.6,533.40 468.1,533.40 468.6,533.40 469.1,533.40 469.6,533.40 470.1,533.40 470.6,533.40 471.1,533.40 471.6,533.40 472.1,533.40 472.6,533.40 473.1,533.40 473.6,533.40 474.1,533.40 474.6,533.40 475.1,533.40 475.6,533.40 476.1,533.40 476.6,533.40 477.1,533.40 477.6,533.40 478.1,533.40 478.6,533.40 479.1,533.40 479.6,533.40 480.1,533.40 480.6,533.40 481.1,533.40 481.6,533.40 482.1,533.40 482.6,533.40 483.0,533.40" fill="#000"/>
<line x1="258.60" y1="533.40" x2="483.00" y2="533.40" stroke="#000" stroke-width="0.9"/>
<line x1="258.60" y1="510.00" x2="258.60" y2="533.85" stroke="#000" stroke-width="1.0"/>
<line x1="256.80" y1="510.00" x2="258.60" y2="510.00" stroke="#000" stroke-width="0.8"/>
<text x="256.30" y="513.14" font-size="7.6" text-anchor="end">4</text>
<text x="260.90" y="515.78" font-size="8.3" textLength="21.6" lengthAdjust="spacingAndGlyphs">ATAC</text>
<text x="249.28" y="496.60" font-size="8.3" text-anchor="middle" transform="rotate(-90 249.28 496.60)" textLength="26.0" lengthAdjust="spacingAndGlyphs">rpm/bp</text>
<text x="253.80" y="541.08" font-size="8.3" textLength="65.2" lengthAdjust="spacingAndGlyphs">chr12:89,677,755</text>
<text x="417.50" y="541.38" font-size="8.3" textLength="65.2" lengthAdjust="spacingAndGlyphs">chr12:89,808,163</text>
<line x1="374.40" y1="535.60" x2="374.40" y2="564.40" stroke="#000" stroke-width="0.9"/>
<line x1="367.20" y1="535.60" x2="374.85" y2="535.60" stroke="#000" stroke-width="0.9"/>
<polygon points="365.6,535.6 368.6,534.0 368.6,537.2" fill="#000"/>
<line x1="369.70" y1="544.70" x2="369.70" y2="571.20" stroke="#000" stroke-width="0.8"/>
<line x1="371.40" y1="544.70" x2="371.40" y2="571.20" stroke="#000" stroke-width="1.0"/>
<line x1="373.00" y1="544.70" x2="373.00" y2="571.20" stroke="#000" stroke-width="1.0"/>
<rect x="367.10" y="551.40" width="1.90" height="13.00" fill="#000"/>
<line x1="368.90" y1="558.50" x2="374.40" y2="558.50" stroke="#000" stroke-width="0.8"/>
<text x="370.80" y="579.28" font-size="8.3" text-anchor="middle" textLength="27.2" lengthAdjust="spacingAndGlyphs">DUSP6</text>
</g>
</svg>
</body></html>
